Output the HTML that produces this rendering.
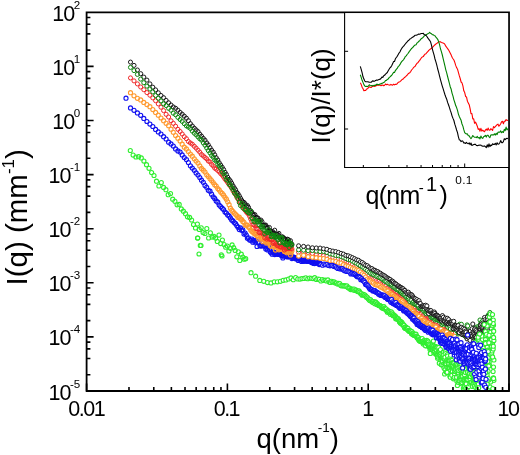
<!DOCTYPE html><html><head><meta charset="utf-8"><style>html,body{margin:0;padding:0;background:#fff;width:520px;height:455px;overflow:hidden}svg{display:block}</style></head><body><svg width="520" height="455" viewBox="0 0 520 455" font-family="Liberation Sans, Arial, sans-serif">
<rect width="520" height="455" fill="#fff"/>
<g fill="none">
<g stroke="#30ee30" stroke-width="1.1"><circle cx="130.3" cy="150.5" r="2.05"/><circle cx="133.1" cy="155.1" r="2.05"/><circle cx="135.9" cy="157.0" r="2.05"/><circle cx="138.6" cy="156.7" r="2.05"/><circle cx="141.3" cy="157.9" r="2.05"/><circle cx="143.9" cy="161.1" r="2.05"/><circle cx="146.5" cy="164.7" r="2.05"/><circle cx="149.0" cy="168.3" r="2.05"/><circle cx="151.6" cy="172.5" r="2.05"/><circle cx="154.0" cy="175.5" r="2.05"/><circle cx="156.5" cy="181.2" r="2.05"/><circle cx="158.9" cy="186.0" r="2.05"/><circle cx="161.3" cy="182.5" r="2.05"/><circle cx="163.6" cy="187.4" r="2.05"/><circle cx="165.9" cy="189.7" r="2.05"/><circle cx="168.2" cy="194.7" r="2.05"/><circle cx="170.5" cy="193.5" r="2.05"/><circle cx="172.7" cy="199.2" r="2.05"/><circle cx="174.9" cy="201.3" r="2.05"/><circle cx="177.1" cy="204.8" r="2.05"/><circle cx="179.2" cy="204.4" r="2.05"/><circle cx="181.3" cy="208.9" r="2.05"/><circle cx="183.4" cy="211.2" r="2.05"/><circle cx="185.5" cy="213.7" r="2.05"/><circle cx="187.5" cy="216.8" r="2.05"/><circle cx="189.6" cy="217.4" r="2.05"/><circle cx="191.6" cy="220.0" r="2.05"/><circle cx="193.5" cy="224.5" r="2.05"/><circle cx="195.5" cy="228.0" r="2.05"/><circle cx="197.4" cy="224.0" r="2.05"/><circle cx="199.3" cy="229.4" r="2.05"/><circle cx="201.2" cy="227.8" r="2.05"/><circle cx="203.1" cy="232.5" r="2.05"/><circle cx="204.9" cy="233.5" r="2.05"/><circle cx="206.8" cy="228.6" r="2.05"/><circle cx="208.6" cy="238.0" r="2.05"/><circle cx="210.4" cy="232.8" r="2.05"/><circle cx="212.1" cy="237.1" r="2.05"/><circle cx="213.9" cy="236.3" r="2.05"/><circle cx="215.6" cy="237.9" r="2.05"/><circle cx="217.3" cy="241.4" r="2.05"/><circle cx="219.0" cy="235.1" r="2.05"/><circle cx="220.7" cy="243.6" r="2.05"/><circle cx="222.4" cy="240.1" r="2.05"/><circle cx="224.1" cy="244.6" r="2.05"/><circle cx="225.7" cy="247.2" r="2.05"/><circle cx="227.3" cy="246.0" r="2.05"/><circle cx="228.9" cy="251.0" r="2.05"/><circle cx="230.5" cy="248.3" r="2.05"/><circle cx="232.1" cy="244.9" r="2.05"/><circle cx="233.7" cy="247.7" r="2.05"/><circle cx="235.2" cy="250.4" r="2.05"/><circle cx="236.8" cy="256.8" r="2.05"/><circle cx="238.3" cy="251.8" r="2.05"/><circle cx="239.8" cy="260.5" r="2.05"/><circle cx="241.3" cy="254.2" r="2.05"/><circle cx="242.8" cy="257.0" r="2.05"/><circle cx="244.2" cy="259.2" r="2.05"/><circle cx="245.7" cy="258.7" r="2.05"/><circle cx="197.6" cy="238.0" r="2.05"/><circle cx="199.0" cy="254.0" r="2.05"/><circle cx="201.0" cy="245.5" r="2.05"/><circle cx="222.0" cy="256.0" r="2.05"/><circle cx="221.3" cy="254.8" r="2.05"/><circle cx="197.7" cy="238.1" r="2.05"/><circle cx="200.3" cy="245.4" r="2.05"/></g>
<g stroke="#30ee30" stroke-width="1.1" fill="#fff"><circle cx="251.0" cy="272.7" r="2.05"/><circle cx="255.6" cy="276.2" r="2.05"/><circle cx="259.8" cy="280.4" r="2.05"/><circle cx="263.8" cy="281.3" r="2.05"/><circle cx="267.5" cy="282.6" r="2.05"/><circle cx="271.0" cy="282.9" r="2.05"/><circle cx="274.3" cy="281.8" r="2.05"/><circle cx="277.4" cy="281.8" r="2.05"/><circle cx="280.4" cy="281.3" r="2.05"/><circle cx="283.2" cy="280.3" r="2.05"/><circle cx="285.9" cy="279.9" r="2.05"/><circle cx="288.5" cy="279.0" r="2.05"/><circle cx="291.0" cy="277.9" r="2.05"/><circle cx="293.3" cy="279.7" r="2.05"/><circle cx="295.6" cy="277.5" r="2.05"/><circle cx="297.8" cy="279.0" r="2.05"/><circle cx="300.0" cy="279.1" r="2.05"/><circle cx="302.0" cy="278.6" r="2.05"/><circle cx="304.0" cy="278.4" r="2.05"/><circle cx="305.9" cy="277.8" r="2.05"/><circle cx="307.8" cy="278.7" r="2.05"/><circle cx="309.6" cy="278.1" r="2.05"/><circle cx="311.3" cy="278.3" r="2.05"/><circle cx="313.0" cy="278.6" r="2.05"/><circle cx="314.7" cy="277.7" r="2.05"/><circle cx="316.3" cy="279.5" r="2.05"/><circle cx="317.9" cy="279.1" r="2.05"/><circle cx="319.4" cy="279.3" r="2.05"/><circle cx="320.9" cy="281.0" r="2.05"/><circle cx="322.4" cy="279.6" r="2.05"/><circle cx="323.8" cy="280.5" r="2.05"/><circle cx="325.2" cy="280.2" r="2.05"/><circle cx="326.5" cy="281.0" r="2.05"/><circle cx="327.9" cy="279.9" r="2.05"/><circle cx="329.2" cy="282.0" r="2.05"/><circle cx="330.4" cy="282.5" r="2.05"/><circle cx="331.7" cy="281.3" r="2.05"/><circle cx="332.9" cy="282.1" r="2.05"/><circle cx="334.1" cy="281.9" r="2.05"/><circle cx="335.3" cy="283.0" r="2.05"/><circle cx="336.4" cy="283.0" r="2.05"/><circle cx="337.6" cy="284.1" r="2.05"/><circle cx="338.7" cy="283.4" r="2.05"/><circle cx="339.8" cy="283.7" r="2.05"/><circle cx="340.8" cy="285.5" r="2.05"/><circle cx="341.9" cy="286.0" r="2.05"/><circle cx="342.9" cy="285.6" r="2.05"/><circle cx="343.9" cy="285.7" r="2.05"/><circle cx="344.9" cy="286.0" r="2.05"/><circle cx="345.9" cy="286.2" r="2.05"/><circle cx="346.9" cy="285.9" r="2.05"/><circle cx="347.9" cy="287.6" r="2.05"/><circle cx="348.8" cy="288.1" r="2.05"/><circle cx="349.7" cy="288.2" r="2.05"/><circle cx="350.6" cy="289.6" r="2.05"/><circle cx="351.5" cy="289.3" r="2.05"/><circle cx="352.4" cy="289.2" r="2.05"/><circle cx="353.3" cy="289.9" r="2.05"/><circle cx="354.1" cy="289.0" r="2.05"/><circle cx="355.0" cy="290.5" r="2.05"/><circle cx="355.8" cy="289.8" r="2.05"/><circle cx="356.6" cy="290.5" r="2.05"/><circle cx="357.5" cy="291.6" r="2.05"/><circle cx="358.3" cy="291.0" r="2.05"/><circle cx="359.0" cy="290.9" r="2.05"/><circle cx="359.8" cy="292.2" r="2.05"/><circle cx="360.6" cy="293.6" r="2.05"/><circle cx="361.4" cy="293.6" r="2.05"/><circle cx="362.1" cy="295.2" r="2.05"/><circle cx="362.9" cy="294.7" r="2.05"/><circle cx="363.6" cy="294.4" r="2.05"/><circle cx="364.3" cy="295.3" r="2.05"/><circle cx="365.0" cy="295.1" r="2.05"/><circle cx="365.7" cy="296.2" r="2.05"/><circle cx="366.4" cy="297.2" r="2.05"/><circle cx="367.1" cy="297.0" r="2.05"/><circle cx="367.8" cy="298.0" r="2.05"/><circle cx="368.5" cy="299.1" r="2.05"/><circle cx="369.2" cy="299.8" r="2.05"/><circle cx="369.8" cy="300.5" r="2.05"/><circle cx="370.5" cy="299.5" r="2.05"/><circle cx="371.1" cy="300.8" r="2.05"/><circle cx="371.8" cy="301.8" r="2.05"/><circle cx="372.4" cy="301.5" r="2.05"/><circle cx="373.0" cy="302.5" r="2.05"/><circle cx="373.7" cy="301.6" r="2.05"/><circle cx="374.3" cy="302.9" r="2.05"/><circle cx="374.9" cy="303.7" r="2.05"/><circle cx="375.5" cy="301.9" r="2.05"/><circle cx="376.1" cy="302.7" r="2.05"/><circle cx="376.7" cy="304.5" r="2.05"/><circle cx="377.3" cy="303.5" r="2.05"/><circle cx="377.8" cy="304.3" r="2.05"/><circle cx="378.4" cy="305.3" r="2.05"/><circle cx="379.0" cy="305.5" r="2.05"/><circle cx="379.5" cy="305.6" r="2.05"/><circle cx="380.1" cy="305.5" r="2.05"/><circle cx="380.7" cy="306.4" r="2.05"/><circle cx="381.2" cy="306.4" r="2.05"/><circle cx="381.7" cy="307.7" r="2.05"/><circle cx="382.3" cy="307.3" r="2.05"/><circle cx="382.8" cy="307.9" r="2.05"/><circle cx="383.4" cy="308.6" r="2.05"/><circle cx="383.9" cy="306.7" r="2.05"/><circle cx="384.4" cy="308.1" r="2.05"/><circle cx="384.9" cy="308.7" r="2.05"/><circle cx="385.4" cy="308.8" r="2.05"/><circle cx="385.9" cy="309.7" r="2.05"/><circle cx="386.4" cy="309.0" r="2.05"/><circle cx="386.9" cy="311.1" r="2.05"/><circle cx="387.4" cy="312.2" r="2.05"/><circle cx="387.9" cy="310.5" r="2.05"/><circle cx="388.4" cy="311.7" r="2.05"/><circle cx="388.9" cy="311.2" r="2.05"/><circle cx="389.4" cy="312.8" r="2.05"/><circle cx="389.8" cy="312.0" r="2.05"/><circle cx="390.3" cy="314.3" r="2.05"/><circle cx="390.8" cy="312.8" r="2.05"/><circle cx="391.3" cy="311.8" r="2.05"/><circle cx="391.7" cy="313.3" r="2.05"/><circle cx="392.2" cy="313.1" r="2.05"/><circle cx="392.6" cy="314.7" r="2.05"/><circle cx="393.1" cy="315.7" r="2.05"/><circle cx="393.5" cy="314.5" r="2.05"/><circle cx="394.0" cy="315.6" r="2.05"/><circle cx="394.4" cy="316.1" r="2.05"/><circle cx="394.8" cy="315.7" r="2.05"/><circle cx="395.3" cy="316.4" r="2.05"/><circle cx="395.7" cy="318.8" r="2.05"/><circle cx="396.1" cy="317.2" r="2.05"/><circle cx="396.6" cy="318.1" r="2.05"/><circle cx="397.0" cy="318.9" r="2.05"/><circle cx="397.4" cy="318.7" r="2.05"/><circle cx="397.8" cy="319.0" r="2.05"/><circle cx="398.2" cy="318.6" r="2.05"/><circle cx="398.7" cy="319.7" r="2.05"/><circle cx="399.1" cy="320.7" r="2.05"/><circle cx="399.5" cy="321.7" r="2.05"/><circle cx="399.9" cy="322.1" r="2.05"/><circle cx="400.3" cy="323.1" r="2.05"/><circle cx="400.7" cy="321.4" r="2.05"/><circle cx="401.1" cy="323.5" r="2.05"/><circle cx="401.5" cy="322.7" r="2.05"/><circle cx="401.9" cy="322.3" r="2.05"/><circle cx="402.2" cy="323.4" r="2.05"/><circle cx="402.6" cy="324.8" r="2.05"/><circle cx="403.0" cy="324.7" r="2.05"/><circle cx="403.4" cy="325.5" r="2.05"/><circle cx="403.8" cy="324.9" r="2.05"/><circle cx="404.1" cy="325.6" r="2.05"/><circle cx="404.5" cy="327.8" r="2.05"/><circle cx="404.9" cy="327.3" r="2.05"/><circle cx="405.3" cy="328.5" r="2.05"/><circle cx="405.6" cy="327.2" r="2.05"/><circle cx="406.0" cy="327.2" r="2.05"/><circle cx="406.4" cy="328.6" r="2.05"/><circle cx="406.7" cy="328.9" r="2.05"/><circle cx="407.1" cy="328.6" r="2.05"/><circle cx="407.4" cy="328.2" r="2.05"/><circle cx="407.8" cy="329.9" r="2.05"/><circle cx="408.1" cy="328.5" r="2.05"/><circle cx="408.5" cy="330.4" r="2.05"/><circle cx="408.8" cy="330.5" r="2.05"/><circle cx="409.2" cy="331.5" r="2.05"/><circle cx="409.5" cy="330.9" r="2.05"/><circle cx="409.9" cy="330.8" r="2.05"/><circle cx="410.2" cy="330.9" r="2.05"/><circle cx="410.5" cy="331.5" r="2.05"/><circle cx="410.9" cy="331.0" r="2.05"/><circle cx="411.2" cy="332.6" r="2.05"/><circle cx="411.5" cy="333.8" r="2.05"/><circle cx="411.9" cy="331.7" r="2.05"/><circle cx="412.2" cy="333.7" r="2.05"/><circle cx="412.5" cy="333.8" r="2.05"/><circle cx="412.9" cy="334.6" r="2.05"/><circle cx="413.2" cy="333.2" r="2.05"/><circle cx="413.5" cy="334.6" r="2.05"/><circle cx="413.8" cy="335.2" r="2.05"/><circle cx="414.1" cy="335.0" r="2.05"/><circle cx="414.5" cy="334.7" r="2.05"/><circle cx="414.8" cy="334.8" r="2.05"/><circle cx="415.1" cy="335.1" r="2.05"/><circle cx="415.4" cy="335.5" r="2.05"/><circle cx="415.7" cy="334.5" r="2.05"/><circle cx="416.0" cy="334.2" r="2.05"/><circle cx="416.3" cy="336.0" r="2.05"/><circle cx="416.6" cy="336.7" r="2.05"/><circle cx="416.9" cy="336.6" r="2.05"/><circle cx="417.2" cy="337.9" r="2.05"/><circle cx="417.5" cy="337.7" r="2.05"/><circle cx="417.8" cy="337.5" r="2.05"/><circle cx="418.1" cy="338.5" r="2.05"/><circle cx="418.4" cy="337.7" r="2.05"/><circle cx="418.7" cy="340.1" r="2.05"/><circle cx="419.0" cy="339.3" r="2.05"/><circle cx="419.3" cy="340.2" r="2.05"/><circle cx="419.6" cy="341.0" r="2.05"/><circle cx="419.9" cy="339.2" r="2.05"/><circle cx="420.2" cy="339.3" r="2.05"/><circle cx="420.5" cy="341.5" r="2.05"/><circle cx="420.8" cy="339.5" r="2.05"/><circle cx="421.1" cy="341.1" r="2.05"/><circle cx="421.3" cy="341.4" r="2.05"/><circle cx="421.6" cy="340.4" r="2.05"/><circle cx="421.9" cy="341.5" r="2.05"/><circle cx="422.2" cy="338.6" r="2.05"/><circle cx="422.5" cy="342.5" r="2.05"/><circle cx="422.7" cy="342.1" r="2.05"/><circle cx="423.0" cy="341.0" r="2.05"/><circle cx="423.3" cy="344.1" r="2.05"/><circle cx="423.6" cy="342.7" r="2.05"/><circle cx="423.8" cy="341.6" r="2.05"/><circle cx="424.1" cy="340.7" r="2.05"/><circle cx="424.4" cy="342.9" r="2.05"/><circle cx="424.6" cy="341.6" r="2.05"/><circle cx="424.9" cy="342.2" r="2.05"/><circle cx="425.2" cy="342.9" r="2.05"/><circle cx="425.4" cy="345.6" r="2.05"/><circle cx="425.7" cy="345.8" r="2.05"/><circle cx="426.0" cy="341.8" r="2.05"/><circle cx="426.2" cy="342.6" r="2.05"/><circle cx="426.5" cy="343.2" r="2.05"/><circle cx="426.7" cy="340.4" r="2.05"/><circle cx="427.0" cy="343.1" r="2.05"/><circle cx="427.3" cy="341.9" r="2.05"/><circle cx="427.5" cy="344.0" r="2.05"/><circle cx="427.8" cy="341.1" r="2.05"/><circle cx="428.0" cy="342.7" r="2.05"/><circle cx="428.3" cy="342.1" r="2.05"/><circle cx="428.5" cy="346.5" r="2.05"/><circle cx="428.8" cy="343.9" r="2.05"/><circle cx="429.0" cy="345.8" r="2.05"/><circle cx="429.3" cy="346.2" r="2.05"/><circle cx="429.5" cy="346.9" r="2.05"/><circle cx="429.8" cy="344.6" r="2.05"/><circle cx="430.0" cy="349.4" r="2.05"/><circle cx="430.3" cy="353.4" r="2.05"/><circle cx="430.5" cy="348.2" r="2.05"/><circle cx="430.8" cy="346.8" r="2.05"/><circle cx="431.0" cy="344.3" r="2.05"/><circle cx="431.2" cy="346.9" r="2.05"/><circle cx="431.5" cy="348.3" r="2.05"/><circle cx="431.7" cy="349.1" r="2.05"/><circle cx="432.0" cy="346.1" r="2.05"/><circle cx="432.2" cy="345.2" r="2.05"/><circle cx="432.4" cy="349.3" r="2.05"/><circle cx="432.7" cy="344.0" r="2.05"/><circle cx="432.9" cy="345.4" r="2.05"/><circle cx="433.1" cy="347.3" r="2.05"/><circle cx="433.4" cy="341.1" r="2.05"/><circle cx="433.6" cy="348.9" r="2.05"/><circle cx="433.8" cy="346.0" r="2.05"/><circle cx="434.1" cy="353.1" r="2.05"/><circle cx="434.3" cy="351.3" r="2.05"/><circle cx="434.5" cy="348.0" r="2.05"/><circle cx="434.7" cy="348.2" r="2.05"/><circle cx="435.0" cy="346.3" r="2.05"/><circle cx="435.2" cy="348.9" r="2.05"/><circle cx="435.4" cy="346.8" r="2.05"/><circle cx="435.6" cy="353.3" r="2.05"/><circle cx="435.9" cy="348.8" r="2.05"/><circle cx="436.1" cy="352.4" r="2.05"/><circle cx="436.3" cy="347.0" r="2.05"/><circle cx="436.5" cy="354.7" r="2.05"/><circle cx="436.7" cy="350.5" r="2.05"/><circle cx="437.0" cy="353.3" r="2.05"/><circle cx="437.2" cy="347.2" r="2.05"/><circle cx="437.4" cy="354.5" r="2.05"/><circle cx="437.6" cy="358.2" r="2.05"/><circle cx="437.8" cy="355.2" r="2.05"/><circle cx="438.1" cy="357.1" r="2.05"/><circle cx="438.3" cy="352.2" r="2.05"/><circle cx="438.5" cy="351.8" r="2.05"/><circle cx="438.7" cy="347.4" r="2.05"/><circle cx="438.9" cy="351.4" r="2.05"/><circle cx="439.1" cy="355.4" r="2.05"/><circle cx="439.3" cy="363.2" r="2.05"/><circle cx="439.5" cy="350.6" r="2.05"/><circle cx="439.7" cy="354.0" r="2.05"/><circle cx="440.0" cy="353.8" r="2.05"/><circle cx="440.2" cy="354.7" r="2.05"/><circle cx="440.4" cy="349.5" r="2.05"/><circle cx="440.6" cy="357.1" r="2.05"/><circle cx="440.8" cy="356.1" r="2.05"/><circle cx="441.0" cy="360.0" r="2.05"/><circle cx="441.2" cy="364.6" r="2.05"/><circle cx="441.4" cy="357.8" r="2.05"/><circle cx="441.6" cy="364.8" r="2.05"/><circle cx="441.8" cy="359.0" r="2.05"/><circle cx="442.0" cy="356.8" r="2.05"/><circle cx="442.2" cy="357.7" r="2.05"/><circle cx="442.4" cy="358.0" r="2.05"/><circle cx="442.6" cy="361.3" r="2.05"/><circle cx="442.8" cy="356.5" r="2.05"/><circle cx="443.0" cy="365.2" r="2.05"/><circle cx="443.2" cy="357.3" r="2.05"/><circle cx="443.4" cy="352.2" r="2.05"/><circle cx="443.6" cy="358.5" r="2.05"/><circle cx="443.8" cy="354.8" r="2.05"/><circle cx="444.0" cy="368.1" r="2.05"/><circle cx="444.2" cy="363.5" r="2.05"/><circle cx="444.4" cy="359.3" r="2.05"/><circle cx="444.6" cy="374.0" r="2.05"/><circle cx="444.8" cy="359.0" r="2.05"/><circle cx="445.0" cy="357.2" r="2.05"/><circle cx="445.1" cy="369.4" r="2.05"/><circle cx="445.3" cy="351.7" r="2.05"/><circle cx="445.5" cy="363.4" r="2.05"/><circle cx="445.7" cy="353.6" r="2.05"/><circle cx="445.9" cy="363.0" r="2.05"/><circle cx="446.1" cy="363.9" r="2.05"/><circle cx="446.3" cy="372.1" r="2.05"/><circle cx="446.5" cy="372.1" r="2.05"/><circle cx="446.7" cy="361.2" r="2.05"/><circle cx="446.8" cy="367.2" r="2.05"/><circle cx="447.0" cy="359.8" r="2.05"/><circle cx="447.2" cy="372.3" r="2.05"/><circle cx="447.4" cy="354.5" r="2.05"/><circle cx="447.6" cy="356.0" r="2.05"/><circle cx="447.8" cy="360.4" r="2.05"/><circle cx="448.0" cy="366.7" r="2.05"/><circle cx="448.1" cy="367.6" r="2.05"/><circle cx="448.3" cy="361.1" r="2.05"/><circle cx="448.5" cy="364.7" r="2.05"/><circle cx="448.7" cy="363.6" r="2.05"/><circle cx="448.9" cy="363.6" r="2.05"/><circle cx="449.0" cy="367.8" r="2.05"/><circle cx="449.2" cy="361.0" r="2.05"/><circle cx="449.4" cy="359.9" r="2.05"/><circle cx="449.6" cy="367.7" r="2.05"/><circle cx="449.8" cy="360.5" r="2.05"/><circle cx="449.9" cy="375.9" r="2.05"/><circle cx="450.1" cy="357.4" r="2.05"/><circle cx="450.3" cy="377.2" r="2.05"/><circle cx="450.5" cy="365.8" r="2.05"/><circle cx="450.6" cy="355.2" r="2.05"/><circle cx="450.8" cy="370.2" r="2.05"/><circle cx="451.0" cy="360.1" r="2.05"/><circle cx="451.2" cy="373.2" r="2.05"/><circle cx="451.3" cy="367.7" r="2.05"/><circle cx="451.5" cy="363.2" r="2.05"/><circle cx="451.7" cy="365.5" r="2.05"/><circle cx="451.8" cy="375.2" r="2.05"/><circle cx="452.0" cy="360.6" r="2.05"/><circle cx="452.2" cy="362.9" r="2.05"/><circle cx="452.4" cy="371.3" r="2.05"/><circle cx="452.5" cy="367.9" r="2.05"/><circle cx="452.7" cy="366.3" r="2.05"/><circle cx="452.9" cy="365.3" r="2.05"/><circle cx="453.0" cy="365.8" r="2.05"/><circle cx="453.2" cy="362.6" r="2.05"/><circle cx="453.4" cy="378.8" r="2.05"/><circle cx="453.5" cy="367.5" r="2.05"/><circle cx="453.7" cy="348.2" r="2.05"/><circle cx="453.9" cy="363.1" r="2.05"/><circle cx="454.0" cy="363.0" r="2.05"/><circle cx="454.2" cy="377.4" r="2.05"/><circle cx="454.4" cy="373.4" r="2.05"/><circle cx="454.5" cy="369.3" r="2.05"/><circle cx="454.7" cy="368.7" r="2.05"/><circle cx="454.9" cy="371.4" r="2.05"/><circle cx="455.0" cy="371.1" r="2.05"/><circle cx="455.3" cy="369.0" r="2.05"/><circle cx="455.5" cy="365.4" r="2.05"/><circle cx="455.7" cy="369.6" r="2.05"/><circle cx="455.8" cy="364.3" r="2.05"/><circle cx="456.0" cy="364.7" r="2.05"/><circle cx="456.2" cy="378.2" r="2.05"/><circle cx="456.3" cy="362.0" r="2.05"/><circle cx="456.5" cy="364.4" r="2.05"/><circle cx="456.6" cy="377.2" r="2.05"/><circle cx="456.8" cy="368.3" r="2.05"/><circle cx="456.9" cy="381.3" r="2.05"/><circle cx="457.1" cy="371.7" r="2.05"/><circle cx="457.3" cy="367.0" r="2.05"/><circle cx="457.4" cy="385.5" r="2.05"/><circle cx="457.6" cy="365.3" r="2.05"/><circle cx="457.7" cy="367.7" r="2.05"/><circle cx="457.9" cy="368.6" r="2.05"/><circle cx="458.0" cy="373.4" r="2.05"/><circle cx="458.2" cy="382.3" r="2.05"/><circle cx="458.4" cy="351.3" r="2.05"/><circle cx="458.5" cy="372.8" r="2.05"/><circle cx="458.8" cy="370.4" r="2.05"/><circle cx="459.0" cy="381.1" r="2.05"/><circle cx="459.1" cy="376.1" r="2.05"/><circle cx="459.3" cy="363.7" r="2.05"/><circle cx="459.4" cy="359.7" r="2.05"/><circle cx="459.6" cy="378.3" r="2.05"/><circle cx="459.7" cy="380.6" r="2.05"/><circle cx="459.9" cy="353.3" r="2.05"/><circle cx="460.0" cy="367.2" r="2.05"/><circle cx="460.2" cy="362.6" r="2.05"/><circle cx="460.3" cy="369.6" r="2.05"/><circle cx="460.5" cy="359.9" r="2.05"/><circle cx="460.6" cy="378.9" r="2.05"/><circle cx="460.8" cy="376.3" r="2.05"/><circle cx="460.9" cy="358.9" r="2.05"/><circle cx="461.1" cy="364.3" r="2.05"/><circle cx="461.2" cy="377.0" r="2.05"/><circle cx="461.4" cy="373.6" r="2.05"/><circle cx="461.5" cy="368.5" r="2.05"/><circle cx="461.7" cy="383.8" r="2.05"/><circle cx="461.8" cy="380.3" r="2.05"/><circle cx="461.9" cy="374.9" r="2.05"/><circle cx="462.1" cy="382.4" r="2.05"/><circle cx="462.2" cy="370.8" r="2.05"/><circle cx="462.4" cy="374.7" r="2.05"/><circle cx="462.5" cy="376.7" r="2.05"/><circle cx="462.7" cy="376.2" r="2.05"/><circle cx="462.8" cy="362.7" r="2.05"/><circle cx="463.0" cy="357.3" r="2.05"/><circle cx="463.1" cy="366.2" r="2.05"/><circle cx="463.4" cy="388.3" r="2.05"/><circle cx="463.5" cy="370.2" r="2.05"/><circle cx="463.7" cy="381.2" r="2.05"/><circle cx="463.8" cy="379.3" r="2.05"/><circle cx="463.9" cy="365.8" r="2.05"/><circle cx="464.1" cy="389.4" r="2.05"/><circle cx="464.2" cy="379.4" r="2.05"/><circle cx="464.4" cy="374.3" r="2.05"/><circle cx="464.5" cy="374.7" r="2.05"/><circle cx="464.6" cy="381.2" r="2.05"/><circle cx="464.8" cy="386.4" r="2.05"/><circle cx="464.9" cy="368.7" r="2.05"/><circle cx="465.1" cy="380.2" r="2.05"/><circle cx="465.2" cy="368.4" r="2.05"/><circle cx="465.3" cy="370.4" r="2.05"/><circle cx="465.5" cy="372.4" r="2.05"/><circle cx="465.6" cy="388.3" r="2.05"/><circle cx="465.7" cy="359.2" r="2.05"/><circle cx="465.9" cy="382.2" r="2.05"/><circle cx="466.0" cy="368.7" r="2.05"/><circle cx="466.2" cy="383.7" r="2.05"/><circle cx="466.3" cy="361.3" r="2.05"/><circle cx="466.4" cy="379.8" r="2.05"/><circle cx="466.6" cy="364.9" r="2.05"/><circle cx="467.0" cy="388.7" r="2.05"/><circle cx="467.1" cy="379.4" r="2.05"/><circle cx="467.2" cy="362.3" r="2.05"/><circle cx="467.4" cy="371.9" r="2.05"/><circle cx="467.6" cy="379.7" r="2.05"/><circle cx="467.8" cy="361.4" r="2.05"/><circle cx="467.9" cy="379.4" r="2.05"/><circle cx="468.0" cy="367.7" r="2.05"/><circle cx="468.2" cy="376.8" r="2.05"/><circle cx="468.7" cy="386.6" r="2.05"/><circle cx="468.9" cy="366.3" r="2.05"/><circle cx="469.1" cy="371.5" r="2.05"/><circle cx="469.2" cy="377.0" r="2.05"/><circle cx="469.5" cy="373.7" r="2.05"/><circle cx="469.6" cy="375.7" r="2.05"/><circle cx="469.7" cy="376.4" r="2.05"/><circle cx="469.8" cy="373.5" r="2.05"/><circle cx="470.0" cy="383.9" r="2.05"/><circle cx="470.1" cy="379.8" r="2.05"/><circle cx="470.4" cy="347.9" r="2.05"/><circle cx="470.5" cy="376.6" r="2.05"/><circle cx="470.7" cy="355.5" r="2.05"/><circle cx="470.9" cy="382.5" r="2.05"/><circle cx="471.2" cy="382.1" r="2.05"/><circle cx="471.5" cy="362.5" r="2.05"/><circle cx="471.6" cy="374.3" r="2.05"/><circle cx="471.7" cy="373.8" r="2.05"/><circle cx="472.3" cy="364.5" r="2.05"/><circle cx="472.5" cy="384.4" r="2.05"/><circle cx="472.6" cy="386.5" r="2.05"/><circle cx="472.8" cy="373.1" r="2.05"/><circle cx="473.0" cy="380.9" r="2.05"/><circle cx="473.1" cy="376.4" r="2.05"/><circle cx="473.2" cy="368.2" r="2.05"/><circle cx="473.3" cy="380.5" r="2.05"/><circle cx="473.6" cy="374.2" r="2.05"/><circle cx="473.7" cy="375.3" r="2.05"/><circle cx="473.8" cy="383.3" r="2.05"/><circle cx="473.9" cy="383.2" r="2.05"/><circle cx="474.0" cy="372.5" r="2.05"/><circle cx="474.2" cy="363.6" r="2.05"/><circle cx="474.3" cy="378.9" r="2.05"/><circle cx="474.4" cy="377.9" r="2.05"/><circle cx="474.5" cy="386.3" r="2.05"/><circle cx="474.9" cy="379.0" r="2.05"/><circle cx="475.0" cy="382.1" r="2.05"/><circle cx="475.1" cy="382.5" r="2.05"/><circle cx="475.2" cy="364.6" r="2.05"/><circle cx="475.4" cy="367.1" r="2.05"/><circle cx="475.5" cy="377.3" r="2.05"/><circle cx="475.7" cy="387.5" r="2.05"/><circle cx="475.8" cy="383.3" r="2.05"/><circle cx="476.0" cy="357.9" r="2.05"/><circle cx="476.2" cy="371.1" r="2.05"/><circle cx="476.4" cy="381.0" r="2.05"/><circle cx="476.8" cy="384.7" r="2.05"/><circle cx="476.9" cy="379.7" r="2.05"/><circle cx="477.2" cy="378.4" r="2.05"/><circle cx="477.3" cy="388.4" r="2.05"/><circle cx="477.4" cy="381.3" r="2.05"/><circle cx="477.6" cy="380.2" r="2.05"/><circle cx="477.8" cy="368.3" r="2.05"/><circle cx="477.9" cy="385.6" r="2.05"/><circle cx="478.0" cy="370.3" r="2.05"/><circle cx="478.1" cy="378.6" r="2.05"/><circle cx="478.2" cy="366.3" r="2.05"/><circle cx="478.4" cy="383.9" r="2.05"/><circle cx="478.7" cy="387.8" r="2.05"/><circle cx="478.8" cy="378.4" r="2.05"/><circle cx="479.0" cy="365.9" r="2.05"/></g>
<g stroke="#1010f0" stroke-width="1.1"><circle cx="130.5" cy="107.9" r="2.05"/><circle cx="134.0" cy="110.3" r="2.05"/><circle cx="137.4" cy="112.9" r="2.05"/><circle cx="140.7" cy="115.3" r="2.05"/><circle cx="143.8" cy="118.4" r="2.05"/><circle cx="146.9" cy="121.5" r="2.05"/><circle cx="149.9" cy="124.1" r="2.05"/><circle cx="152.8" cy="126.5" r="2.05"/><circle cx="155.6" cy="129.4" r="2.05"/><circle cx="158.3" cy="131.9" r="2.05"/><circle cx="161.0" cy="134.0" r="2.05"/><circle cx="163.6" cy="136.7" r="2.05"/><circle cx="166.1" cy="139.0" r="2.05"/><circle cx="168.6" cy="142.2" r="2.05"/><circle cx="171.0" cy="143.9" r="2.05"/><circle cx="173.3" cy="146.1" r="2.05"/><circle cx="175.6" cy="148.9" r="2.05"/><circle cx="177.9" cy="150.9" r="2.05"/><circle cx="180.1" cy="152.1" r="2.05"/><circle cx="182.2" cy="154.9" r="2.05"/><circle cx="184.3" cy="157.5" r="2.05"/><circle cx="186.4" cy="159.6" r="2.05"/><circle cx="188.4" cy="162.5" r="2.05"/><circle cx="190.4" cy="165.8" r="2.05"/><circle cx="192.3" cy="168.1" r="2.05"/><circle cx="194.3" cy="170.3" r="2.05"/><circle cx="196.1" cy="172.9" r="2.05"/><circle cx="198.0" cy="175.0" r="2.05"/><circle cx="199.8" cy="177.5" r="2.05"/><circle cx="201.5" cy="180.2" r="2.05"/><circle cx="203.3" cy="182.3" r="2.05"/><circle cx="205.0" cy="185.4" r="2.05"/><circle cx="206.7" cy="187.3" r="2.05"/><circle cx="208.3" cy="190.3" r="2.05"/><circle cx="210.0" cy="191.2" r="2.05"/><circle cx="211.6" cy="194.2" r="2.05"/><circle cx="213.2" cy="196.8" r="2.05"/><circle cx="214.7" cy="198.4" r="2.05"/><circle cx="216.2" cy="200.9" r="2.05"/><circle cx="217.8" cy="202.2" r="2.05"/><circle cx="219.2" cy="205.0" r="2.05"/><circle cx="220.7" cy="206.5" r="2.05"/><circle cx="222.2" cy="208.2" r="2.05"/><circle cx="223.6" cy="209.6" r="2.05"/><circle cx="225.0" cy="212.1" r="2.05"/><circle cx="226.4" cy="213.0" r="2.05"/><circle cx="227.7" cy="214.9" r="2.05"/><circle cx="229.1" cy="215.9" r="2.05"/><circle cx="230.4" cy="217.9" r="2.05"/><circle cx="231.7" cy="219.9" r="2.05"/><circle cx="233.0" cy="220.9" r="2.05"/><circle cx="234.3" cy="222.5" r="2.05"/><circle cx="235.6" cy="223.7" r="2.05"/><circle cx="236.8" cy="225.6" r="2.05"/><circle cx="238.0" cy="227.2" r="2.05"/><circle cx="239.3" cy="229.6" r="2.05"/><circle cx="240.5" cy="227.9" r="2.05"/><circle cx="241.7" cy="230.3" r="2.05"/><circle cx="242.8" cy="229.8" r="2.05"/><circle cx="244.0" cy="234.1" r="2.05"/><circle cx="245.1" cy="233.0" r="2.05"/><circle cx="246.3" cy="235.1" r="2.05"/><circle cx="247.4" cy="238.3" r="2.05"/><circle cx="248.5" cy="237.8" r="2.05"/><circle cx="249.6" cy="239.9" r="2.05"/><circle cx="250.7" cy="240.3" r="2.05"/><circle cx="251.8" cy="239.0" r="2.05"/><circle cx="252.8" cy="242.2" r="2.05"/><circle cx="253.9" cy="240.3" r="2.05"/><circle cx="254.9" cy="242.2" r="2.05"/><circle cx="256.0" cy="240.8" r="2.05"/><circle cx="257.0" cy="246.5" r="2.05"/><circle cx="258.0" cy="242.7" r="2.05"/><circle cx="259.0" cy="242.1" r="2.05"/><circle cx="260.0" cy="246.0" r="2.05"/><circle cx="261.0" cy="245.7" r="2.05"/><circle cx="262.0" cy="246.0" r="2.05"/><circle cx="262.9" cy="245.6" r="2.05"/><circle cx="263.9" cy="245.6" r="2.05"/><circle cx="264.8" cy="246.1" r="2.05"/><circle cx="265.8" cy="249.1" r="2.05"/><circle cx="266.7" cy="248.1" r="2.05"/><circle cx="267.6" cy="249.9" r="2.05"/><circle cx="268.5" cy="246.4" r="2.05"/><circle cx="269.4" cy="249.4" r="2.05"/><circle cx="270.3" cy="252.0" r="2.05"/><circle cx="271.2" cy="252.8" r="2.05"/><circle cx="272.1" cy="254.2" r="2.05"/><circle cx="273.0" cy="252.0" r="2.05"/><circle cx="273.8" cy="251.8" r="2.05"/><circle cx="274.7" cy="254.6" r="2.05"/><circle cx="275.5" cy="253.4" r="2.05"/><circle cx="276.4" cy="254.0" r="2.05"/><circle cx="277.2" cy="253.2" r="2.05"/><circle cx="278.0" cy="254.4" r="2.05"/><circle cx="278.9" cy="253.7" r="2.05"/><circle cx="279.7" cy="254.0" r="2.05"/><circle cx="280.5" cy="254.2" r="2.05"/><circle cx="281.3" cy="255.6" r="2.05"/><circle cx="282.1" cy="255.8" r="2.05"/><circle cx="282.9" cy="258.0" r="2.05"/><circle cx="283.7" cy="256.2" r="2.05"/><circle cx="284.4" cy="254.0" r="2.05"/><circle cx="285.2" cy="254.0" r="2.05"/><circle cx="286.0" cy="256.3" r="2.05"/><circle cx="286.7" cy="256.4" r="2.05"/><circle cx="287.5" cy="257.0" r="2.05"/><circle cx="288.2" cy="256.5" r="2.05"/><circle cx="289.0" cy="256.7" r="2.05"/><circle cx="289.7" cy="256.1" r="2.05"/><circle cx="290.5" cy="254.9" r="2.05"/><circle cx="291.2" cy="256.1" r="2.05"/><circle cx="291.9" cy="258.6" r="2.05"/><circle cx="292.6" cy="257.7" r="2.05"/><circle cx="293.3" cy="256.9" r="2.05"/><circle cx="294.1" cy="257.6" r="2.05"/><circle cx="294.8" cy="257.9" r="2.05"/><circle cx="295.5" cy="258.4" r="2.05"/><circle cx="296.1" cy="259.0" r="2.05"/><circle cx="296.8" cy="257.8" r="2.05"/><circle cx="297.5" cy="258.8" r="2.05"/><circle cx="298.2" cy="260.4" r="2.05"/><circle cx="298.9" cy="258.4" r="2.05"/><circle cx="299.5" cy="259.3" r="2.05"/><circle cx="300.2" cy="259.3" r="2.05"/><circle cx="300.9" cy="260.0" r="2.05"/><circle cx="301.5" cy="261.4" r="2.05"/><circle cx="302.2" cy="260.3" r="2.05"/><circle cx="302.8" cy="260.3" r="2.05"/><circle cx="303.5" cy="261.3" r="2.05"/><circle cx="304.1" cy="260.1" r="2.05"/><circle cx="304.8" cy="259.6" r="2.05"/><circle cx="305.4" cy="261.0" r="2.05"/><circle cx="306.0" cy="261.2" r="2.05"/><circle cx="306.6" cy="260.5" r="2.05"/><circle cx="307.3" cy="261.0" r="2.05"/><circle cx="307.9" cy="261.2" r="2.05"/><circle cx="308.5" cy="261.0" r="2.05"/><circle cx="309.1" cy="261.5" r="2.05"/><circle cx="309.7" cy="261.0" r="2.05"/><circle cx="310.3" cy="261.2" r="2.05"/><circle cx="310.9" cy="260.2" r="2.05"/><circle cx="311.5" cy="262.4" r="2.05"/><circle cx="312.1" cy="262.8" r="2.05"/><circle cx="312.7" cy="261.6" r="2.05"/><circle cx="313.3" cy="261.1" r="2.05"/><circle cx="313.9" cy="263.5" r="2.05"/><circle cx="314.5" cy="263.6" r="2.05"/><circle cx="315.1" cy="263.2" r="2.05"/><circle cx="315.7" cy="261.3" r="2.05"/><circle cx="316.3" cy="263.0" r="2.05"/><circle cx="316.9" cy="262.2" r="2.05"/><circle cx="317.5" cy="262.8" r="2.05"/><circle cx="318.1" cy="262.9" r="2.05"/><circle cx="318.7" cy="263.2" r="2.05"/><circle cx="319.3" cy="264.6" r="2.05"/><circle cx="319.9" cy="263.1" r="2.05"/><circle cx="126.0" cy="98.2" r="2.05"/></g>
<g stroke="#ff9a30" stroke-width="1.1"><circle cx="130.5" cy="92.7" r="2.05"/><circle cx="134.0" cy="95.8" r="2.05"/><circle cx="137.4" cy="98.3" r="2.05"/><circle cx="140.7" cy="99.9" r="2.05"/><circle cx="143.8" cy="102.4" r="2.05"/><circle cx="146.9" cy="104.6" r="2.05"/><circle cx="149.9" cy="106.7" r="2.05"/><circle cx="152.8" cy="109.6" r="2.05"/><circle cx="155.6" cy="112.4" r="2.05"/><circle cx="158.3" cy="115.2" r="2.05"/><circle cx="161.0" cy="118.0" r="2.05"/><circle cx="163.6" cy="120.7" r="2.05"/><circle cx="166.1" cy="123.3" r="2.05"/><circle cx="168.6" cy="125.7" r="2.05"/><circle cx="171.0" cy="129.2" r="2.05"/><circle cx="173.3" cy="132.3" r="2.05"/><circle cx="175.6" cy="135.6" r="2.05"/><circle cx="177.9" cy="138.2" r="2.05"/><circle cx="180.1" cy="141.0" r="2.05"/><circle cx="182.2" cy="144.2" r="2.05"/><circle cx="184.3" cy="147.2" r="2.05"/><circle cx="186.4" cy="148.9" r="2.05"/><circle cx="188.4" cy="151.5" r="2.05"/><circle cx="190.4" cy="154.1" r="2.05"/><circle cx="192.3" cy="156.2" r="2.05"/><circle cx="194.3" cy="158.8" r="2.05"/><circle cx="196.1" cy="161.0" r="2.05"/><circle cx="198.0" cy="163.0" r="2.05"/><circle cx="199.8" cy="165.9" r="2.05"/><circle cx="201.5" cy="168.4" r="2.05"/><circle cx="203.3" cy="170.2" r="2.05"/><circle cx="205.0" cy="172.1" r="2.05"/><circle cx="206.7" cy="174.8" r="2.05"/><circle cx="208.3" cy="176.5" r="2.05"/><circle cx="210.0" cy="178.7" r="2.05"/><circle cx="211.6" cy="180.5" r="2.05"/><circle cx="213.2" cy="182.5" r="2.05"/><circle cx="214.7" cy="184.7" r="2.05"/><circle cx="216.2" cy="186.1" r="2.05"/><circle cx="217.8" cy="188.6" r="2.05"/><circle cx="219.2" cy="189.9" r="2.05"/><circle cx="220.7" cy="192.1" r="2.05"/><circle cx="222.2" cy="193.4" r="2.05"/><circle cx="223.6" cy="195.2" r="2.05"/><circle cx="225.0" cy="197.3" r="2.05"/><circle cx="226.4" cy="199.2" r="2.05"/><circle cx="227.7" cy="201.8" r="2.05"/><circle cx="229.1" cy="204.7" r="2.05"/><circle cx="230.4" cy="208.2" r="2.05"/><circle cx="231.7" cy="210.2" r="2.05"/><circle cx="233.0" cy="211.6" r="2.05"/><circle cx="234.3" cy="213.2" r="2.05"/><circle cx="235.6" cy="214.3" r="2.05"/><circle cx="236.8" cy="215.6" r="2.05"/><circle cx="238.0" cy="217.5" r="2.05"/><circle cx="239.3" cy="217.2" r="2.05"/><circle cx="240.5" cy="219.0" r="2.05"/><circle cx="241.7" cy="219.7" r="2.05"/><circle cx="242.8" cy="221.4" r="2.05"/><circle cx="244.0" cy="222.3" r="2.05"/><circle cx="245.1" cy="225.1" r="2.05"/><circle cx="246.3" cy="225.0" r="2.05"/><circle cx="247.4" cy="225.1" r="2.05"/><circle cx="248.5" cy="227.1" r="2.05"/><circle cx="249.6" cy="227.7" r="2.05"/><circle cx="250.7" cy="230.0" r="2.05"/><circle cx="251.8" cy="231.2" r="2.05"/><circle cx="252.8" cy="231.9" r="2.05"/><circle cx="253.9" cy="233.0" r="2.05"/><circle cx="254.9" cy="234.1" r="2.05"/><circle cx="256.0" cy="233.9" r="2.05"/><circle cx="257.0" cy="235.8" r="2.05"/><circle cx="258.0" cy="236.0" r="2.05"/><circle cx="259.0" cy="239.1" r="2.05"/><circle cx="260.0" cy="236.3" r="2.05"/><circle cx="261.0" cy="238.4" r="2.05"/><circle cx="262.0" cy="238.5" r="2.05"/><circle cx="262.9" cy="241.7" r="2.05"/><circle cx="263.9" cy="240.1" r="2.05"/><circle cx="264.8" cy="240.6" r="2.05"/><circle cx="265.8" cy="242.0" r="2.05"/><circle cx="266.7" cy="243.1" r="2.05"/><circle cx="267.6" cy="241.5" r="2.05"/><circle cx="268.5" cy="242.6" r="2.05"/><circle cx="269.4" cy="241.8" r="2.05"/><circle cx="270.3" cy="245.7" r="2.05"/><circle cx="271.2" cy="246.2" r="2.05"/><circle cx="272.1" cy="242.4" r="2.05"/><circle cx="273.0" cy="245.5" r="2.05"/><circle cx="273.8" cy="246.3" r="2.05"/><circle cx="274.7" cy="246.8" r="2.05"/><circle cx="275.5" cy="250.1" r="2.05"/><circle cx="276.4" cy="246.3" r="2.05"/><circle cx="277.2" cy="246.6" r="2.05"/><circle cx="278.0" cy="248.2" r="2.05"/><circle cx="278.9" cy="249.8" r="2.05"/><circle cx="279.7" cy="247.5" r="2.05"/><circle cx="280.5" cy="249.2" r="2.05"/><circle cx="281.3" cy="249.1" r="2.05"/><circle cx="282.1" cy="247.8" r="2.05"/><circle cx="282.9" cy="248.7" r="2.05"/><circle cx="283.7" cy="248.8" r="2.05"/><circle cx="284.4" cy="251.5" r="2.05"/><circle cx="285.2" cy="250.9" r="2.05"/><circle cx="286.0" cy="249.1" r="2.05"/><circle cx="286.7" cy="252.8" r="2.05"/><circle cx="287.5" cy="251.6" r="2.05"/><circle cx="288.2" cy="252.2" r="2.05"/><circle cx="289.0" cy="250.5" r="2.05"/><circle cx="289.7" cy="250.7" r="2.05"/><circle cx="290.5" cy="254.9" r="2.05"/><circle cx="291.2" cy="252.8" r="2.05"/><circle cx="291.9" cy="250.7" r="2.05"/></g>
<g stroke="#f02828" stroke-width="1.0"><circle cx="130.5" cy="77.9" r="2.05"/><circle cx="134.0" cy="80.9" r="2.05"/><circle cx="137.4" cy="83.9" r="2.05"/><circle cx="140.7" cy="87.0" r="2.05"/><circle cx="143.8" cy="89.7" r="2.05"/><circle cx="146.9" cy="92.6" r="2.05"/><circle cx="149.9" cy="95.2" r="2.05"/><circle cx="152.8" cy="97.9" r="2.05"/><circle cx="155.6" cy="100.7" r="2.05"/><circle cx="158.3" cy="103.9" r="2.05"/><circle cx="161.0" cy="107.2" r="2.05"/><circle cx="163.6" cy="110.6" r="2.05"/><circle cx="166.1" cy="114.3" r="2.05"/><circle cx="168.6" cy="117.0" r="2.05"/><circle cx="171.0" cy="120.8" r="2.05"/><circle cx="173.3" cy="123.3" r="2.05"/><circle cx="175.6" cy="126.2" r="2.05"/><circle cx="177.9" cy="129.3" r="2.05"/><circle cx="180.1" cy="131.5" r="2.05"/><circle cx="182.2" cy="134.0" r="2.05"/><circle cx="184.3" cy="136.7" r="2.05"/><circle cx="186.4" cy="138.7" r="2.05"/><circle cx="188.4" cy="141.5" r="2.05"/><circle cx="190.4" cy="143.0" r="2.05"/><circle cx="192.3" cy="144.2" r="2.05"/><circle cx="194.3" cy="146.3" r="2.05"/><circle cx="196.1" cy="148.1" r="2.05"/><circle cx="198.0" cy="150.2" r="2.05"/><circle cx="199.8" cy="152.2" r="2.05"/><circle cx="201.5" cy="154.5" r="2.05"/><circle cx="203.3" cy="155.9" r="2.05"/><circle cx="205.0" cy="157.5" r="2.05"/><circle cx="206.7" cy="158.9" r="2.05"/><circle cx="208.3" cy="161.0" r="2.05"/><circle cx="210.0" cy="162.0" r="2.05"/><circle cx="211.6" cy="164.4" r="2.05"/><circle cx="213.2" cy="165.9" r="2.05"/><circle cx="214.7" cy="168.1" r="2.05"/><circle cx="216.2" cy="169.1" r="2.05"/><circle cx="217.8" cy="170.5" r="2.05"/><circle cx="219.2" cy="171.8" r="2.05"/><circle cx="220.7" cy="173.6" r="2.05"/><circle cx="222.2" cy="175.1" r="2.05"/><circle cx="223.6" cy="177.0" r="2.05"/><circle cx="225.0" cy="179.1" r="2.05"/><circle cx="226.4" cy="180.7" r="2.05"/><circle cx="227.7" cy="182.5" r="2.05"/><circle cx="229.1" cy="184.6" r="2.05"/><circle cx="230.4" cy="186.2" r="2.05"/><circle cx="231.7" cy="188.1" r="2.05"/><circle cx="233.0" cy="190.7" r="2.05"/><circle cx="234.3" cy="193.0" r="2.05"/><circle cx="235.6" cy="194.6" r="2.05"/><circle cx="236.8" cy="197.2" r="2.05"/><circle cx="238.0" cy="199.0" r="2.05"/><circle cx="239.3" cy="201.4" r="2.05"/><circle cx="240.5" cy="202.2" r="2.05"/><circle cx="241.7" cy="204.7" r="2.05"/><circle cx="242.8" cy="206.7" r="2.05"/><circle cx="244.0" cy="209.0" r="2.05"/><circle cx="245.1" cy="210.2" r="2.05"/><circle cx="246.3" cy="211.9" r="2.05"/><circle cx="247.4" cy="213.0" r="2.05"/><circle cx="248.5" cy="214.1" r="2.05"/><circle cx="249.6" cy="216.3" r="2.05"/><circle cx="250.7" cy="219.0" r="2.05"/><circle cx="251.8" cy="221.7" r="2.05"/><circle cx="252.8" cy="224.4" r="2.05"/><circle cx="253.9" cy="224.6" r="2.05"/><circle cx="254.9" cy="225.9" r="2.05"/><circle cx="256.0" cy="228.6" r="2.05"/><circle cx="257.0" cy="228.6" r="2.05"/><circle cx="258.0" cy="229.1" r="2.05"/><circle cx="259.0" cy="232.4" r="2.05"/><circle cx="260.0" cy="233.0" r="2.05"/><circle cx="261.0" cy="232.0" r="2.05"/><circle cx="262.0" cy="233.0" r="2.05"/><circle cx="262.9" cy="234.0" r="2.05"/><circle cx="263.9" cy="233.5" r="2.05"/><circle cx="264.8" cy="238.0" r="2.05"/><circle cx="265.8" cy="235.3" r="2.05"/><circle cx="266.7" cy="239.1" r="2.05"/><circle cx="267.6" cy="237.7" r="2.05"/><circle cx="268.5" cy="236.4" r="2.05"/><circle cx="269.4" cy="239.3" r="2.05"/><circle cx="270.3" cy="238.9" r="2.05"/><circle cx="271.2" cy="239.8" r="2.05"/><circle cx="272.1" cy="239.6" r="2.05"/><circle cx="273.0" cy="243.4" r="2.05"/><circle cx="273.8" cy="242.5" r="2.05"/><circle cx="274.7" cy="242.0" r="2.05"/><circle cx="275.5" cy="244.0" r="2.05"/><circle cx="276.4" cy="243.4" r="2.05"/><circle cx="277.2" cy="245.7" r="2.05"/><circle cx="278.0" cy="245.1" r="2.05"/><circle cx="278.9" cy="243.1" r="2.05"/><circle cx="279.7" cy="246.7" r="2.05"/><circle cx="280.5" cy="246.6" r="2.05"/><circle cx="281.3" cy="247.3" r="2.05"/><circle cx="282.1" cy="245.8" r="2.05"/><circle cx="282.9" cy="245.0" r="2.05"/><circle cx="283.7" cy="247.7" r="2.05"/><circle cx="284.4" cy="250.0" r="2.05"/><circle cx="285.2" cy="245.9" r="2.05"/><circle cx="286.0" cy="248.9" r="2.05"/><circle cx="286.7" cy="247.9" r="2.05"/><circle cx="287.5" cy="245.8" r="2.05"/><circle cx="288.2" cy="248.7" r="2.05"/><circle cx="289.0" cy="248.1" r="2.05"/><circle cx="289.7" cy="247.4" r="2.05"/><circle cx="290.5" cy="248.5" r="2.05"/><circle cx="291.2" cy="246.4" r="2.05"/><circle cx="291.9" cy="248.9" r="2.05"/></g>
<g stroke="#111111" stroke-width="0.95"><circle cx="130.5" cy="62.1" r="2.05"/><circle cx="134.0" cy="65.4" r="2.05"/><circle cx="137.4" cy="70.0" r="2.05"/><circle cx="140.7" cy="73.7" r="2.05"/><circle cx="143.8" cy="77.1" r="2.05"/><circle cx="146.9" cy="80.1" r="2.05"/><circle cx="149.9" cy="83.9" r="2.05"/><circle cx="152.8" cy="87.2" r="2.05"/><circle cx="155.6" cy="89.9" r="2.05"/><circle cx="158.3" cy="92.8" r="2.05"/><circle cx="161.0" cy="95.5" r="2.05"/><circle cx="163.6" cy="97.7" r="2.05"/><circle cx="166.1" cy="100.4" r="2.05"/><circle cx="168.6" cy="102.8" r="2.05"/><circle cx="171.0" cy="105.0" r="2.05"/><circle cx="173.3" cy="107.0" r="2.05"/><circle cx="175.6" cy="108.3" r="2.05"/><circle cx="177.9" cy="110.2" r="2.05"/><circle cx="180.1" cy="112.4" r="2.05"/><circle cx="182.2" cy="114.2" r="2.05"/><circle cx="184.3" cy="116.2" r="2.05"/><circle cx="186.4" cy="118.2" r="2.05"/><circle cx="188.4" cy="120.7" r="2.05"/><circle cx="190.4" cy="123.7" r="2.05"/><circle cx="192.3" cy="126.0" r="2.05"/><circle cx="194.3" cy="128.2" r="2.05"/><circle cx="196.1" cy="129.9" r="2.05"/><circle cx="198.0" cy="131.6" r="2.05"/><circle cx="199.8" cy="134.2" r="2.05"/><circle cx="201.5" cy="136.1" r="2.05"/><circle cx="203.3" cy="138.4" r="2.05"/><circle cx="205.0" cy="140.2" r="2.05"/><circle cx="206.7" cy="142.9" r="2.05"/><circle cx="208.3" cy="144.9" r="2.05"/><circle cx="210.0" cy="147.6" r="2.05"/><circle cx="211.6" cy="150.1" r="2.05"/><circle cx="213.2" cy="152.1" r="2.05"/><circle cx="214.7" cy="154.8" r="2.05"/><circle cx="216.2" cy="157.7" r="2.05"/><circle cx="217.8" cy="160.0" r="2.05"/><circle cx="219.2" cy="162.8" r="2.05"/><circle cx="220.7" cy="165.1" r="2.05"/><circle cx="222.2" cy="167.3" r="2.05"/><circle cx="223.6" cy="169.5" r="2.05"/><circle cx="225.0" cy="172.3" r="2.05"/><circle cx="226.4" cy="174.5" r="2.05"/><circle cx="227.7" cy="177.3" r="2.05"/><circle cx="229.1" cy="179.4" r="2.05"/><circle cx="230.4" cy="181.0" r="2.05"/><circle cx="231.7" cy="183.3" r="2.05"/><circle cx="233.0" cy="185.8" r="2.05"/><circle cx="234.3" cy="187.9" r="2.05"/><circle cx="235.6" cy="189.8" r="2.05"/><circle cx="236.8" cy="192.4" r="2.05"/><circle cx="238.0" cy="193.8" r="2.05"/><circle cx="239.3" cy="195.9" r="2.05"/><circle cx="240.5" cy="198.2" r="2.05"/><circle cx="241.7" cy="200.3" r="2.05"/><circle cx="242.8" cy="201.9" r="2.05"/><circle cx="244.0" cy="202.4" r="2.05"/><circle cx="245.1" cy="203.9" r="2.05"/><circle cx="246.3" cy="206.3" r="2.05"/><circle cx="247.4" cy="205.5" r="2.05"/><circle cx="248.5" cy="207.3" r="2.05"/><circle cx="249.6" cy="210.1" r="2.05"/><circle cx="250.7" cy="210.9" r="2.05"/><circle cx="251.8" cy="212.1" r="2.05"/><circle cx="252.8" cy="214.0" r="2.05"/><circle cx="253.9" cy="215.2" r="2.05"/><circle cx="254.9" cy="214.6" r="2.05"/><circle cx="256.0" cy="217.4" r="2.05"/><circle cx="257.0" cy="217.7" r="2.05"/><circle cx="258.0" cy="218.1" r="2.05"/><circle cx="259.0" cy="220.1" r="2.05"/><circle cx="260.0" cy="222.0" r="2.05"/><circle cx="261.0" cy="220.1" r="2.05"/><circle cx="262.0" cy="221.8" r="2.05"/><circle cx="262.9" cy="225.2" r="2.05"/><circle cx="263.9" cy="225.5" r="2.05"/><circle cx="264.8" cy="225.1" r="2.05"/><circle cx="265.8" cy="225.1" r="2.05"/><circle cx="266.7" cy="228.0" r="2.05"/><circle cx="267.6" cy="227.7" r="2.05"/><circle cx="268.5" cy="230.7" r="2.05"/><circle cx="269.4" cy="227.5" r="2.05"/><circle cx="270.3" cy="230.8" r="2.05"/><circle cx="271.2" cy="231.3" r="2.05"/><circle cx="272.1" cy="233.5" r="2.05"/><circle cx="273.0" cy="231.8" r="2.05"/><circle cx="273.8" cy="233.3" r="2.05"/><circle cx="274.7" cy="230.2" r="2.05"/><circle cx="275.5" cy="237.0" r="2.05"/><circle cx="276.4" cy="234.4" r="2.05"/><circle cx="277.2" cy="234.8" r="2.05"/><circle cx="278.0" cy="234.5" r="2.05"/><circle cx="278.9" cy="233.4" r="2.05"/><circle cx="279.7" cy="237.7" r="2.05"/><circle cx="280.5" cy="237.6" r="2.05"/><circle cx="281.3" cy="238.9" r="2.05"/><circle cx="282.1" cy="236.8" r="2.05"/><circle cx="282.9" cy="237.2" r="2.05"/><circle cx="283.7" cy="238.6" r="2.05"/><circle cx="284.4" cy="238.8" r="2.05"/><circle cx="285.2" cy="239.0" r="2.05"/><circle cx="286.0" cy="241.6" r="2.05"/><circle cx="286.7" cy="241.2" r="2.05"/><circle cx="287.5" cy="239.2" r="2.05"/><circle cx="288.2" cy="239.6" r="2.05"/><circle cx="289.0" cy="241.2" r="2.05"/><circle cx="289.7" cy="242.8" r="2.05"/><circle cx="290.5" cy="240.7" r="2.05"/><circle cx="291.2" cy="244.1" r="2.05"/><circle cx="291.9" cy="244.2" r="2.05"/></g>
<g stroke="#108a10" stroke-width="1.0"><circle cx="130.5" cy="67.4" r="2.05"/><circle cx="134.0" cy="70.6" r="2.05"/><circle cx="137.4" cy="74.4" r="2.05"/><circle cx="140.7" cy="79.1" r="2.05"/><circle cx="143.8" cy="82.7" r="2.05"/><circle cx="146.9" cy="86.1" r="2.05"/><circle cx="149.9" cy="89.0" r="2.05"/><circle cx="152.8" cy="91.9" r="2.05"/><circle cx="155.6" cy="95.5" r="2.05"/><circle cx="158.3" cy="98.3" r="2.05"/><circle cx="161.0" cy="100.9" r="2.05"/><circle cx="163.6" cy="103.9" r="2.05"/><circle cx="166.1" cy="105.5" r="2.05"/><circle cx="168.6" cy="108.3" r="2.05"/><circle cx="171.0" cy="110.2" r="2.05"/><circle cx="173.3" cy="113.2" r="2.05"/><circle cx="175.6" cy="114.8" r="2.05"/><circle cx="177.9" cy="117.4" r="2.05"/><circle cx="180.1" cy="119.5" r="2.05"/><circle cx="182.2" cy="121.4" r="2.05"/><circle cx="184.3" cy="123.7" r="2.05"/><circle cx="186.4" cy="125.9" r="2.05"/><circle cx="188.4" cy="127.1" r="2.05"/><circle cx="190.4" cy="128.5" r="2.05"/><circle cx="192.3" cy="131.1" r="2.05"/><circle cx="194.3" cy="133.2" r="2.05"/><circle cx="196.1" cy="134.8" r="2.05"/><circle cx="198.0" cy="136.9" r="2.05"/><circle cx="199.8" cy="138.8" r="2.05"/><circle cx="201.5" cy="140.1" r="2.05"/><circle cx="203.3" cy="142.9" r="2.05"/><circle cx="205.0" cy="145.2" r="2.05"/><circle cx="206.7" cy="148.0" r="2.05"/><circle cx="208.3" cy="150.6" r="2.05"/><circle cx="210.0" cy="153.0" r="2.05"/><circle cx="211.6" cy="155.5" r="2.05"/><circle cx="213.2" cy="157.2" r="2.05"/><circle cx="214.7" cy="160.0" r="2.05"/><circle cx="216.2" cy="161.1" r="2.05"/><circle cx="217.8" cy="164.2" r="2.05"/><circle cx="219.2" cy="166.0" r="2.05"/><circle cx="220.7" cy="168.4" r="2.05"/><circle cx="222.2" cy="171.9" r="2.05"/><circle cx="223.6" cy="173.7" r="2.05"/><circle cx="225.0" cy="176.3" r="2.05"/><circle cx="226.4" cy="179.5" r="2.05"/><circle cx="227.7" cy="180.5" r="2.05"/><circle cx="229.1" cy="184.2" r="2.05"/><circle cx="230.4" cy="184.9" r="2.05"/><circle cx="231.7" cy="187.8" r="2.05"/><circle cx="233.0" cy="189.5" r="2.05"/><circle cx="234.3" cy="192.7" r="2.05"/><circle cx="235.6" cy="194.3" r="2.05"/><circle cx="236.8" cy="196.1" r="2.05"/><circle cx="238.0" cy="198.5" r="2.05"/><circle cx="239.3" cy="202.5" r="2.05"/><circle cx="240.5" cy="205.6" r="2.05"/><circle cx="241.7" cy="203.4" r="2.05"/><circle cx="242.8" cy="207.9" r="2.05"/><circle cx="244.0" cy="205.8" r="2.05"/><circle cx="245.1" cy="209.7" r="2.05"/><circle cx="246.3" cy="209.5" r="2.05"/><circle cx="247.4" cy="211.7" r="2.05"/><circle cx="248.5" cy="212.8" r="2.05"/><circle cx="249.6" cy="213.3" r="2.05"/><circle cx="250.7" cy="211.3" r="2.05"/><circle cx="251.8" cy="218.0" r="2.05"/><circle cx="252.8" cy="218.8" r="2.05"/><circle cx="253.9" cy="221.4" r="2.05"/><circle cx="254.9" cy="222.0" r="2.05"/><circle cx="256.0" cy="219.8" r="2.05"/><circle cx="257.0" cy="221.3" r="2.05"/><circle cx="258.0" cy="222.2" r="2.05"/><circle cx="259.0" cy="224.7" r="2.05"/><circle cx="260.0" cy="221.5" r="2.05"/><circle cx="261.0" cy="226.6" r="2.05"/><circle cx="262.0" cy="228.2" r="2.05"/><circle cx="262.9" cy="226.5" r="2.05"/><circle cx="263.9" cy="230.3" r="2.05"/><circle cx="264.8" cy="233.9" r="2.05"/><circle cx="265.8" cy="231.3" r="2.05"/><circle cx="266.7" cy="232.4" r="2.05"/><circle cx="267.6" cy="232.6" r="2.05"/><circle cx="268.5" cy="229.9" r="2.05"/><circle cx="269.4" cy="232.2" r="2.05"/><circle cx="270.3" cy="233.5" r="2.05"/><circle cx="271.2" cy="236.7" r="2.05"/><circle cx="272.1" cy="236.4" r="2.05"/><circle cx="273.0" cy="235.4" r="2.05"/><circle cx="273.8" cy="235.8" r="2.05"/><circle cx="274.7" cy="237.4" r="2.05"/><circle cx="275.5" cy="235.2" r="2.05"/><circle cx="276.4" cy="236.8" r="2.05"/><circle cx="277.2" cy="238.4" r="2.05"/><circle cx="278.0" cy="239.9" r="2.05"/><circle cx="278.9" cy="237.5" r="2.05"/><circle cx="279.7" cy="242.8" r="2.05"/><circle cx="280.5" cy="238.0" r="2.05"/><circle cx="281.3" cy="237.6" r="2.05"/><circle cx="282.1" cy="237.9" r="2.05"/><circle cx="282.9" cy="242.7" r="2.05"/><circle cx="283.7" cy="242.5" r="2.05"/><circle cx="284.4" cy="243.1" r="2.05"/><circle cx="285.2" cy="244.4" r="2.05"/><circle cx="286.0" cy="243.4" r="2.05"/><circle cx="286.7" cy="244.3" r="2.05"/><circle cx="287.5" cy="244.9" r="2.05"/><circle cx="288.2" cy="241.1" r="2.05"/><circle cx="289.0" cy="247.4" r="2.05"/><circle cx="289.7" cy="242.9" r="2.05"/><circle cx="290.5" cy="243.2" r="2.05"/><circle cx="291.2" cy="244.7" r="2.05"/><circle cx="291.9" cy="245.1" r="2.05"/></g>
<g stroke="#f02828" stroke-width="1.0" fill="#fff"><circle cx="298.6" cy="252.2" r="2.05"/><circle cx="303.6" cy="252.5" r="2.05"/><circle cx="308.1" cy="252.6" r="2.05"/><circle cx="312.4" cy="253.5" r="2.05"/><circle cx="316.3" cy="254.7" r="2.05"/><circle cx="320.1" cy="255.2" r="2.05"/><circle cx="323.6" cy="255.7" r="2.05"/><circle cx="326.9" cy="256.0" r="2.05"/><circle cx="330.0" cy="256.9" r="2.05"/><circle cx="332.9" cy="257.5" r="2.05"/><circle cx="335.8" cy="258.6" r="2.05"/><circle cx="338.5" cy="258.7" r="2.05"/><circle cx="341.1" cy="259.9" r="2.05"/><circle cx="343.5" cy="260.7" r="2.05"/><circle cx="345.9" cy="261.0" r="2.05"/><circle cx="348.2" cy="262.2" r="2.05"/><circle cx="350.4" cy="263.4" r="2.05"/><circle cx="352.5" cy="264.3" r="2.05"/><circle cx="354.6" cy="266.1" r="2.05"/><circle cx="356.6" cy="265.7" r="2.05"/><circle cx="358.5" cy="268.2" r="2.05"/><circle cx="360.4" cy="268.4" r="2.05"/><circle cx="362.2" cy="270.2" r="2.05"/><circle cx="363.9" cy="272.0" r="2.05"/><circle cx="365.6" cy="272.8" r="2.05"/><circle cx="367.3" cy="274.1" r="2.05"/><circle cx="368.9" cy="275.3" r="2.05"/><circle cx="370.5" cy="277.6" r="2.05"/><circle cx="372.0" cy="278.0" r="2.05"/><circle cx="373.5" cy="278.9" r="2.05"/><circle cx="375.0" cy="279.4" r="2.05"/><circle cx="376.4" cy="280.5" r="2.05"/><circle cx="377.8" cy="281.4" r="2.05"/><circle cx="379.1" cy="281.3" r="2.05"/><circle cx="380.5" cy="282.4" r="2.05"/><circle cx="381.8" cy="283.4" r="2.05"/><circle cx="383.0" cy="283.7" r="2.05"/><circle cx="384.3" cy="284.3" r="2.05"/><circle cx="385.5" cy="285.7" r="2.05"/><circle cx="386.7" cy="285.6" r="2.05"/><circle cx="387.9" cy="287.5" r="2.05"/><circle cx="389.0" cy="287.8" r="2.05"/><circle cx="390.2" cy="288.8" r="2.05"/><circle cx="391.3" cy="288.8" r="2.05"/><circle cx="392.4" cy="289.7" r="2.05"/><circle cx="393.4" cy="290.2" r="2.05"/><circle cx="394.5" cy="290.8" r="2.05"/><circle cx="395.5" cy="291.2" r="2.05"/><circle cx="396.5" cy="292.7" r="2.05"/><circle cx="397.5" cy="292.8" r="2.05"/><circle cx="398.5" cy="294.1" r="2.05"/><circle cx="399.5" cy="294.3" r="2.05"/><circle cx="400.4" cy="295.2" r="2.05"/><circle cx="401.4" cy="295.3" r="2.05"/><circle cx="402.3" cy="296.5" r="2.05"/><circle cx="403.2" cy="296.7" r="2.05"/><circle cx="404.1" cy="298.0" r="2.05"/><circle cx="405.0" cy="298.7" r="2.05"/><circle cx="405.9" cy="298.7" r="2.05"/><circle cx="406.7" cy="300.6" r="2.05"/><circle cx="407.6" cy="300.3" r="2.05"/><circle cx="408.4" cy="300.6" r="2.05"/><circle cx="409.2" cy="302.0" r="2.05"/><circle cx="410.0" cy="302.8" r="2.05"/><circle cx="410.8" cy="303.8" r="2.05"/><circle cx="411.6" cy="304.7" r="2.05"/><circle cx="412.4" cy="304.6" r="2.05"/><circle cx="413.2" cy="306.1" r="2.05"/><circle cx="414.0" cy="306.8" r="2.05"/><circle cx="414.7" cy="308.5" r="2.05"/><circle cx="415.4" cy="308.2" r="2.05"/><circle cx="416.2" cy="309.8" r="2.05"/><circle cx="416.9" cy="309.8" r="2.05"/><circle cx="417.6" cy="310.4" r="2.05"/><circle cx="418.3" cy="310.8" r="2.05"/><circle cx="419.0" cy="312.8" r="2.05"/><circle cx="419.7" cy="314.3" r="2.05"/><circle cx="420.4" cy="313.6" r="2.05"/><circle cx="421.1" cy="313.4" r="2.05"/><circle cx="421.8" cy="313.8" r="2.05"/><circle cx="422.4" cy="316.8" r="2.05"/><circle cx="423.1" cy="315.1" r="2.05"/><circle cx="423.7" cy="315.6" r="2.05"/><circle cx="424.4" cy="316.7" r="2.05"/><circle cx="425.0" cy="317.7" r="2.05"/><circle cx="425.6" cy="317.7" r="2.05"/><circle cx="426.2" cy="317.4" r="2.05"/><circle cx="426.9" cy="315.3" r="2.05"/><circle cx="427.5" cy="318.4" r="2.05"/><circle cx="428.1" cy="318.8" r="2.05"/><circle cx="428.7" cy="318.8" r="2.05"/><circle cx="429.3" cy="319.6" r="2.05"/><circle cx="429.9" cy="318.5" r="2.05"/><circle cx="430.4" cy="319.6" r="2.05"/><circle cx="431.0" cy="319.6" r="2.05"/><circle cx="431.6" cy="321.5" r="2.05"/><circle cx="432.1" cy="322.4" r="2.05"/><circle cx="432.7" cy="320.7" r="2.05"/><circle cx="433.3" cy="321.1" r="2.05"/><circle cx="433.8" cy="321.7" r="2.05"/><circle cx="434.3" cy="323.7" r="2.05"/><circle cx="434.9" cy="323.4" r="2.05"/><circle cx="435.4" cy="321.7" r="2.05"/><circle cx="435.9" cy="322.9" r="2.05"/><circle cx="436.5" cy="324.1" r="2.05"/><circle cx="437.0" cy="322.9" r="2.05"/><circle cx="437.5" cy="325.8" r="2.05"/><circle cx="438.0" cy="324.9" r="2.05"/><circle cx="438.5" cy="326.0" r="2.05"/><circle cx="439.0" cy="324.3" r="2.05"/><circle cx="439.5" cy="323.1" r="2.05"/><circle cx="440.0" cy="325.9" r="2.05"/><circle cx="440.5" cy="327.0" r="2.05"/><circle cx="441.0" cy="327.1" r="2.05"/><circle cx="441.5" cy="326.2" r="2.05"/><circle cx="442.0" cy="329.5" r="2.05"/><circle cx="442.4" cy="326.6" r="2.05"/><circle cx="442.9" cy="328.4" r="2.05"/><circle cx="443.4" cy="326.7" r="2.05"/><circle cx="443.8" cy="330.4" r="2.05"/><circle cx="444.3" cy="329.7" r="2.05"/><circle cx="444.8" cy="329.9" r="2.05"/><circle cx="445.2" cy="332.6" r="2.05"/><circle cx="445.7" cy="329.9" r="2.05"/><circle cx="446.1" cy="332.5" r="2.05"/><circle cx="446.6" cy="330.3" r="2.05"/><circle cx="447.0" cy="331.5" r="2.05"/><circle cx="447.4" cy="332.3" r="2.05"/><circle cx="447.9" cy="332.0" r="2.05"/><circle cx="448.3" cy="331.1" r="2.05"/><circle cx="448.7" cy="334.3" r="2.05"/><circle cx="449.2" cy="332.7" r="2.05"/><circle cx="449.6" cy="331.7" r="2.05"/><circle cx="450.0" cy="332.7" r="2.05"/><circle cx="450.4" cy="331.3" r="2.05"/><circle cx="450.8" cy="331.8" r="2.05"/><circle cx="451.3" cy="332.7" r="2.05"/><circle cx="451.7" cy="333.3" r="2.05"/></g>
<g stroke="#ff9a30" stroke-width="1.1" fill="#fff"><circle cx="298.6" cy="256.1" r="2.05"/><circle cx="303.6" cy="255.3" r="2.05"/><circle cx="308.1" cy="256.8" r="2.05"/><circle cx="312.4" cy="257.3" r="2.05"/><circle cx="316.3" cy="257.7" r="2.05"/><circle cx="320.1" cy="258.2" r="2.05"/><circle cx="323.6" cy="258.5" r="2.05"/><circle cx="326.9" cy="259.3" r="2.05"/><circle cx="330.0" cy="260.7" r="2.05"/><circle cx="332.9" cy="261.0" r="2.05"/><circle cx="335.8" cy="261.6" r="2.05"/><circle cx="338.5" cy="262.8" r="2.05"/><circle cx="341.1" cy="263.1" r="2.05"/><circle cx="343.5" cy="264.7" r="2.05"/><circle cx="345.9" cy="265.9" r="2.05"/><circle cx="348.2" cy="266.5" r="2.05"/><circle cx="350.4" cy="267.6" r="2.05"/><circle cx="352.5" cy="268.5" r="2.05"/><circle cx="354.6" cy="268.9" r="2.05"/><circle cx="356.6" cy="270.1" r="2.05"/><circle cx="358.5" cy="270.6" r="2.05"/><circle cx="360.4" cy="272.0" r="2.05"/><circle cx="362.2" cy="273.8" r="2.05"/><circle cx="363.9" cy="275.3" r="2.05"/><circle cx="365.6" cy="277.1" r="2.05"/><circle cx="367.3" cy="279.1" r="2.05"/><circle cx="368.9" cy="280.2" r="2.05"/><circle cx="370.5" cy="280.9" r="2.05"/><circle cx="372.0" cy="282.3" r="2.05"/><circle cx="373.5" cy="283.1" r="2.05"/><circle cx="375.0" cy="284.4" r="2.05"/><circle cx="376.4" cy="285.0" r="2.05"/><circle cx="377.8" cy="285.0" r="2.05"/><circle cx="379.1" cy="285.4" r="2.05"/><circle cx="380.5" cy="286.9" r="2.05"/><circle cx="381.8" cy="287.1" r="2.05"/><circle cx="383.0" cy="288.1" r="2.05"/><circle cx="384.3" cy="288.8" r="2.05"/><circle cx="385.5" cy="289.5" r="2.05"/><circle cx="386.7" cy="290.7" r="2.05"/><circle cx="387.9" cy="291.1" r="2.05"/><circle cx="389.0" cy="293.0" r="2.05"/><circle cx="390.2" cy="293.0" r="2.05"/><circle cx="391.3" cy="294.2" r="2.05"/><circle cx="392.4" cy="294.8" r="2.05"/><circle cx="393.4" cy="296.2" r="2.05"/><circle cx="394.5" cy="296.3" r="2.05"/><circle cx="395.5" cy="297.2" r="2.05"/><circle cx="396.5" cy="297.9" r="2.05"/><circle cx="397.5" cy="298.9" r="2.05"/><circle cx="398.5" cy="299.9" r="2.05"/><circle cx="399.5" cy="300.2" r="2.05"/><circle cx="400.4" cy="300.1" r="2.05"/><circle cx="401.4" cy="301.4" r="2.05"/><circle cx="402.3" cy="301.1" r="2.05"/><circle cx="403.2" cy="302.5" r="2.05"/><circle cx="404.1" cy="303.8" r="2.05"/><circle cx="405.0" cy="304.6" r="2.05"/><circle cx="405.9" cy="304.7" r="2.05"/><circle cx="406.7" cy="305.4" r="2.05"/><circle cx="407.6" cy="306.1" r="2.05"/><circle cx="408.4" cy="307.1" r="2.05"/><circle cx="409.2" cy="307.9" r="2.05"/><circle cx="410.0" cy="306.9" r="2.05"/><circle cx="410.8" cy="308.3" r="2.05"/><circle cx="411.6" cy="309.6" r="2.05"/><circle cx="412.4" cy="310.7" r="2.05"/><circle cx="413.2" cy="311.3" r="2.05"/><circle cx="414.0" cy="312.9" r="2.05"/><circle cx="414.7" cy="313.4" r="2.05"/><circle cx="415.4" cy="314.3" r="2.05"/><circle cx="416.2" cy="314.5" r="2.05"/><circle cx="416.9" cy="314.6" r="2.05"/><circle cx="417.6" cy="315.7" r="2.05"/><circle cx="418.3" cy="315.9" r="2.05"/><circle cx="419.0" cy="316.5" r="2.05"/><circle cx="419.7" cy="319.5" r="2.05"/><circle cx="420.4" cy="318.9" r="2.05"/><circle cx="421.1" cy="318.7" r="2.05"/><circle cx="421.8" cy="318.2" r="2.05"/><circle cx="422.4" cy="320.1" r="2.05"/><circle cx="423.1" cy="320.4" r="2.05"/><circle cx="423.7" cy="321.4" r="2.05"/><circle cx="424.4" cy="320.5" r="2.05"/><circle cx="425.0" cy="321.6" r="2.05"/><circle cx="425.6" cy="324.4" r="2.05"/><circle cx="426.2" cy="322.5" r="2.05"/><circle cx="426.9" cy="322.8" r="2.05"/><circle cx="427.5" cy="323.5" r="2.05"/><circle cx="428.1" cy="322.9" r="2.05"/><circle cx="428.7" cy="324.7" r="2.05"/><circle cx="429.3" cy="325.6" r="2.05"/><circle cx="429.9" cy="324.5" r="2.05"/><circle cx="430.4" cy="324.0" r="2.05"/><circle cx="431.0" cy="326.9" r="2.05"/><circle cx="431.6" cy="325.6" r="2.05"/><circle cx="432.1" cy="327.3" r="2.05"/><circle cx="432.7" cy="326.6" r="2.05"/><circle cx="433.3" cy="327.0" r="2.05"/><circle cx="433.8" cy="326.9" r="2.05"/><circle cx="434.3" cy="326.0" r="2.05"/><circle cx="434.9" cy="327.1" r="2.05"/><circle cx="435.4" cy="326.7" r="2.05"/><circle cx="435.9" cy="327.0" r="2.05"/><circle cx="436.5" cy="329.9" r="2.05"/><circle cx="437.0" cy="330.5" r="2.05"/><circle cx="437.5" cy="330.2" r="2.05"/><circle cx="438.0" cy="330.0" r="2.05"/><circle cx="438.5" cy="329.7" r="2.05"/><circle cx="439.0" cy="331.6" r="2.05"/><circle cx="439.5" cy="329.1" r="2.05"/><circle cx="440.0" cy="330.8" r="2.05"/><circle cx="440.5" cy="330.8" r="2.05"/><circle cx="441.0" cy="328.9" r="2.05"/><circle cx="441.5" cy="332.2" r="2.05"/><circle cx="442.0" cy="332.3" r="2.05"/><circle cx="442.4" cy="331.5" r="2.05"/><circle cx="442.9" cy="333.3" r="2.05"/><circle cx="443.4" cy="331.4" r="2.05"/><circle cx="443.8" cy="333.1" r="2.05"/><circle cx="444.3" cy="332.4" r="2.05"/><circle cx="444.8" cy="335.8" r="2.05"/><circle cx="445.2" cy="333.3" r="2.05"/><circle cx="445.7" cy="336.5" r="2.05"/><circle cx="446.1" cy="336.2" r="2.05"/><circle cx="446.6" cy="331.9" r="2.05"/><circle cx="447.0" cy="335.8" r="2.05"/><circle cx="447.4" cy="335.6" r="2.05"/><circle cx="447.9" cy="334.5" r="2.05"/><circle cx="448.3" cy="335.1" r="2.05"/><circle cx="448.7" cy="336.4" r="2.05"/><circle cx="449.2" cy="338.2" r="2.05"/><circle cx="449.6" cy="334.2" r="2.05"/><circle cx="450.0" cy="335.6" r="2.05"/><circle cx="450.4" cy="335.1" r="2.05"/><circle cx="450.8" cy="338.5" r="2.05"/><circle cx="451.3" cy="335.7" r="2.05"/><circle cx="451.7" cy="335.7" r="2.05"/><circle cx="452.1" cy="339.8" r="2.05"/><circle cx="452.5" cy="336.6" r="2.05"/><circle cx="452.9" cy="337.4" r="2.05"/><circle cx="453.3" cy="338.4" r="2.05"/><circle cx="453.7" cy="336.7" r="2.05"/><circle cx="454.1" cy="339.5" r="2.05"/><circle cx="454.4" cy="339.6" r="2.05"/><circle cx="454.8" cy="336.3" r="2.05"/><circle cx="455.2" cy="340.9" r="2.05"/><circle cx="455.6" cy="341.1" r="2.05"/><circle cx="456.0" cy="340.9" r="2.05"/></g>
<g stroke="#108a10" stroke-width="1.0" fill="#fff"><circle cx="298.6" cy="249.8" r="2.05"/><circle cx="303.6" cy="250.2" r="2.05"/><circle cx="308.1" cy="250.7" r="2.05"/><circle cx="312.4" cy="250.5" r="2.05"/><circle cx="316.3" cy="251.1" r="2.05"/><circle cx="320.1" cy="251.6" r="2.05"/><circle cx="323.6" cy="251.5" r="2.05"/><circle cx="326.9" cy="252.5" r="2.05"/><circle cx="330.0" cy="253.9" r="2.05"/><circle cx="332.9" cy="254.4" r="2.05"/><circle cx="335.8" cy="255.4" r="2.05"/><circle cx="338.5" cy="255.8" r="2.05"/><circle cx="341.1" cy="256.5" r="2.05"/><circle cx="343.5" cy="257.4" r="2.05"/><circle cx="345.9" cy="258.6" r="2.05"/><circle cx="348.2" cy="259.5" r="2.05"/><circle cx="350.4" cy="260.0" r="2.05"/><circle cx="352.5" cy="261.1" r="2.05"/><circle cx="354.6" cy="262.3" r="2.05"/><circle cx="356.6" cy="263.3" r="2.05"/><circle cx="358.5" cy="264.5" r="2.05"/><circle cx="360.4" cy="265.8" r="2.05"/><circle cx="362.2" cy="266.9" r="2.05"/><circle cx="363.9" cy="267.9" r="2.05"/><circle cx="365.6" cy="269.2" r="2.05"/><circle cx="367.3" cy="270.5" r="2.05"/><circle cx="368.9" cy="272.1" r="2.05"/><circle cx="370.5" cy="273.3" r="2.05"/><circle cx="372.0" cy="274.1" r="2.05"/><circle cx="373.5" cy="274.9" r="2.05"/><circle cx="375.0" cy="275.4" r="2.05"/><circle cx="376.4" cy="276.3" r="2.05"/><circle cx="377.8" cy="276.2" r="2.05"/><circle cx="379.1" cy="277.6" r="2.05"/><circle cx="380.5" cy="277.6" r="2.05"/><circle cx="381.8" cy="278.8" r="2.05"/><circle cx="383.0" cy="279.7" r="2.05"/><circle cx="384.3" cy="281.0" r="2.05"/><circle cx="385.5" cy="281.5" r="2.05"/><circle cx="386.7" cy="281.6" r="2.05"/><circle cx="387.9" cy="283.1" r="2.05"/><circle cx="389.0" cy="283.9" r="2.05"/><circle cx="390.2" cy="284.8" r="2.05"/><circle cx="391.3" cy="284.9" r="2.05"/><circle cx="392.4" cy="286.3" r="2.05"/><circle cx="393.4" cy="287.3" r="2.05"/><circle cx="394.5" cy="287.5" r="2.05"/><circle cx="395.5" cy="288.6" r="2.05"/><circle cx="396.5" cy="289.5" r="2.05"/><circle cx="397.5" cy="289.6" r="2.05"/><circle cx="398.5" cy="289.7" r="2.05"/><circle cx="399.5" cy="291.5" r="2.05"/><circle cx="400.4" cy="292.0" r="2.05"/><circle cx="401.4" cy="292.9" r="2.05"/><circle cx="402.3" cy="293.6" r="2.05"/><circle cx="403.2" cy="294.6" r="2.05"/><circle cx="404.1" cy="294.9" r="2.05"/><circle cx="405.0" cy="295.0" r="2.05"/><circle cx="405.9" cy="296.9" r="2.05"/><circle cx="406.7" cy="297.2" r="2.05"/><circle cx="407.6" cy="298.5" r="2.05"/><circle cx="408.4" cy="298.1" r="2.05"/><circle cx="409.2" cy="299.6" r="2.05"/><circle cx="410.0" cy="301.7" r="2.05"/><circle cx="410.8" cy="300.2" r="2.05"/><circle cx="411.6" cy="300.1" r="2.05"/><circle cx="412.4" cy="303.1" r="2.05"/><circle cx="413.2" cy="302.1" r="2.05"/><circle cx="414.0" cy="303.6" r="2.05"/><circle cx="414.7" cy="304.0" r="2.05"/><circle cx="415.4" cy="304.7" r="2.05"/><circle cx="416.2" cy="304.4" r="2.05"/><circle cx="416.9" cy="303.8" r="2.05"/><circle cx="417.6" cy="305.9" r="2.05"/><circle cx="418.3" cy="305.7" r="2.05"/><circle cx="419.0" cy="308.3" r="2.05"/><circle cx="419.7" cy="308.1" r="2.05"/><circle cx="420.4" cy="308.8" r="2.05"/><circle cx="421.1" cy="308.7" r="2.05"/><circle cx="421.8" cy="308.3" r="2.05"/><circle cx="422.4" cy="309.5" r="2.05"/><circle cx="423.1" cy="309.3" r="2.05"/><circle cx="423.7" cy="311.2" r="2.05"/><circle cx="424.4" cy="309.7" r="2.05"/><circle cx="425.0" cy="312.1" r="2.05"/><circle cx="425.6" cy="312.9" r="2.05"/><circle cx="426.2" cy="313.8" r="2.05"/><circle cx="426.9" cy="312.1" r="2.05"/><circle cx="427.5" cy="312.6" r="2.05"/><circle cx="428.1" cy="311.9" r="2.05"/><circle cx="428.7" cy="312.9" r="2.05"/><circle cx="429.3" cy="313.9" r="2.05"/><circle cx="429.9" cy="314.9" r="2.05"/><circle cx="430.4" cy="315.0" r="2.05"/><circle cx="431.0" cy="317.3" r="2.05"/><circle cx="431.6" cy="315.9" r="2.05"/><circle cx="432.1" cy="317.8" r="2.05"/><circle cx="432.7" cy="317.1" r="2.05"/><circle cx="433.3" cy="316.2" r="2.05"/><circle cx="433.8" cy="317.1" r="2.05"/><circle cx="434.3" cy="315.4" r="2.05"/><circle cx="434.9" cy="320.0" r="2.05"/><circle cx="435.4" cy="318.8" r="2.05"/><circle cx="435.9" cy="319.2" r="2.05"/><circle cx="436.5" cy="317.7" r="2.05"/><circle cx="437.0" cy="319.2" r="2.05"/><circle cx="437.5" cy="319.2" r="2.05"/><circle cx="438.0" cy="320.4" r="2.05"/><circle cx="438.5" cy="320.6" r="2.05"/><circle cx="439.0" cy="320.6" r="2.05"/><circle cx="439.5" cy="321.0" r="2.05"/><circle cx="440.0" cy="320.2" r="2.05"/><circle cx="440.5" cy="319.4" r="2.05"/><circle cx="441.0" cy="320.1" r="2.05"/><circle cx="441.5" cy="321.7" r="2.05"/><circle cx="442.0" cy="324.5" r="2.05"/><circle cx="442.4" cy="323.0" r="2.05"/><circle cx="442.9" cy="322.8" r="2.05"/><circle cx="443.4" cy="321.9" r="2.05"/><circle cx="443.8" cy="323.6" r="2.05"/><circle cx="444.3" cy="321.6" r="2.05"/><circle cx="444.8" cy="321.7" r="2.05"/><circle cx="445.2" cy="322.5" r="2.05"/><circle cx="445.7" cy="324.6" r="2.05"/><circle cx="446.1" cy="323.5" r="2.05"/><circle cx="446.6" cy="323.2" r="2.05"/><circle cx="447.0" cy="325.0" r="2.05"/><circle cx="447.4" cy="324.6" r="2.05"/><circle cx="447.9" cy="327.1" r="2.05"/><circle cx="448.3" cy="322.7" r="2.05"/><circle cx="448.7" cy="322.0" r="2.05"/><circle cx="449.2" cy="325.3" r="2.05"/><circle cx="449.6" cy="325.8" r="2.05"/><circle cx="450.0" cy="326.8" r="2.05"/><circle cx="450.4" cy="329.0" r="2.05"/><circle cx="450.8" cy="324.0" r="2.05"/><circle cx="451.3" cy="323.9" r="2.05"/><circle cx="451.7" cy="324.0" r="2.05"/><circle cx="452.1" cy="325.1" r="2.05"/><circle cx="452.5" cy="325.6" r="2.05"/><circle cx="452.9" cy="329.5" r="2.05"/><circle cx="453.3" cy="328.6" r="2.05"/><circle cx="453.7" cy="327.4" r="2.05"/><circle cx="454.1" cy="323.9" r="2.05"/><circle cx="454.4" cy="326.4" r="2.05"/><circle cx="454.8" cy="326.9" r="2.05"/><circle cx="455.2" cy="327.4" r="2.05"/><circle cx="455.6" cy="327.8" r="2.05"/><circle cx="456.0" cy="330.0" r="2.05"/><circle cx="456.4" cy="330.6" r="2.05"/><circle cx="456.7" cy="328.4" r="2.05"/><circle cx="457.1" cy="327.3" r="2.05"/><circle cx="457.5" cy="329.1" r="2.05"/><circle cx="457.9" cy="328.4" r="2.05"/><circle cx="458.2" cy="334.0" r="2.05"/><circle cx="458.6" cy="332.9" r="2.05"/><circle cx="458.9" cy="328.7" r="2.05"/><circle cx="459.3" cy="329.8" r="2.05"/><circle cx="459.7" cy="324.2" r="2.05"/><circle cx="460.0" cy="331.7" r="2.05"/><circle cx="460.4" cy="330.2" r="2.05"/><circle cx="460.7" cy="331.3" r="2.05"/><circle cx="461.1" cy="330.6" r="2.05"/><circle cx="461.4" cy="324.3" r="2.05"/><circle cx="461.8" cy="329.2" r="2.05"/><circle cx="462.1" cy="334.1" r="2.05"/><circle cx="462.5" cy="333.3" r="2.05"/><circle cx="462.8" cy="329.5" r="2.05"/><circle cx="463.1" cy="331.8" r="2.05"/><circle cx="463.5" cy="330.4" r="2.05"/><circle cx="463.8" cy="330.6" r="2.05"/><circle cx="464.1" cy="330.9" r="2.05"/><circle cx="464.5" cy="335.8" r="2.05"/><circle cx="464.8" cy="330.1" r="2.05"/><circle cx="465.1" cy="332.6" r="2.05"/><circle cx="465.5" cy="331.8" r="2.05"/><circle cx="465.8" cy="335.5" r="2.05"/><circle cx="466.1" cy="335.7" r="2.05"/><circle cx="466.4" cy="336.4" r="2.05"/><circle cx="466.7" cy="334.5" r="2.05"/><circle cx="467.1" cy="324.9" r="2.05"/><circle cx="467.4" cy="334.1" r="2.05"/><circle cx="467.7" cy="325.9" r="2.05"/><circle cx="468.0" cy="330.7" r="2.05"/><circle cx="468.3" cy="334.4" r="2.05"/><circle cx="468.6" cy="336.8" r="2.05"/><circle cx="468.9" cy="336.1" r="2.05"/><circle cx="469.2" cy="334.9" r="2.05"/><circle cx="469.5" cy="336.3" r="2.05"/><circle cx="469.8" cy="333.2" r="2.05"/><circle cx="470.1" cy="332.9" r="2.05"/><circle cx="470.4" cy="332.3" r="2.05"/><circle cx="470.7" cy="334.5" r="2.05"/><circle cx="471.0" cy="332.0" r="2.05"/><circle cx="471.3" cy="332.1" r="2.05"/><circle cx="471.6" cy="331.9" r="2.05"/><circle cx="471.9" cy="334.8" r="2.05"/><circle cx="472.2" cy="337.2" r="2.05"/><circle cx="472.5" cy="332.9" r="2.05"/><circle cx="472.8" cy="333.1" r="2.05"/><circle cx="473.1" cy="332.8" r="2.05"/><circle cx="473.4" cy="336.4" r="2.05"/><circle cx="473.7" cy="334.7" r="2.05"/><circle cx="474.0" cy="328.8" r="2.05"/><circle cx="474.3" cy="330.4" r="2.05"/><circle cx="474.6" cy="328.1" r="2.05"/><circle cx="474.9" cy="328.8" r="2.05"/><circle cx="475.2" cy="327.9" r="2.05"/><circle cx="475.5" cy="338.1" r="2.05"/><circle cx="475.8" cy="333.4" r="2.05"/><circle cx="476.1" cy="333.0" r="2.05"/><circle cx="476.4" cy="329.5" r="2.05"/><circle cx="476.7" cy="329.4" r="2.05"/><circle cx="477.0" cy="326.9" r="2.05"/><circle cx="477.3" cy="328.5" r="2.05"/><circle cx="477.6" cy="333.1" r="2.05"/><circle cx="477.9" cy="334.8" r="2.05"/><circle cx="478.2" cy="332.9" r="2.05"/><circle cx="478.5" cy="327.5" r="2.05"/><circle cx="478.8" cy="326.4" r="2.05"/><circle cx="479.1" cy="328.3" r="2.05"/><circle cx="479.4" cy="332.7" r="2.05"/><circle cx="479.7" cy="329.1" r="2.05"/><circle cx="480.0" cy="320.0" r="2.05"/><circle cx="480.3" cy="324.4" r="2.05"/><circle cx="480.6" cy="323.9" r="2.05"/><circle cx="480.9" cy="331.3" r="2.05"/><circle cx="481.2" cy="329.8" r="2.05"/><circle cx="481.5" cy="322.2" r="2.05"/><circle cx="481.8" cy="329.0" r="2.05"/><circle cx="482.1" cy="326.7" r="2.05"/><circle cx="482.4" cy="327.8" r="2.05"/><circle cx="482.7" cy="322.7" r="2.05"/><circle cx="483.0" cy="320.4" r="2.05"/><circle cx="483.3" cy="328.9" r="2.05"/><circle cx="483.6" cy="327.0" r="2.05"/><circle cx="483.9" cy="324.3" r="2.05"/><circle cx="484.2" cy="327.1" r="2.05"/><circle cx="484.5" cy="324.2" r="2.05"/><circle cx="484.8" cy="326.1" r="2.05"/><circle cx="485.1" cy="320.5" r="2.05"/><circle cx="485.4" cy="320.3" r="2.05"/><circle cx="485.7" cy="325.1" r="2.05"/><circle cx="486.0" cy="319.0" r="2.05"/><circle cx="486.3" cy="320.3" r="2.05"/><circle cx="486.6" cy="325.0" r="2.05"/><circle cx="486.9" cy="321.2" r="2.05"/><circle cx="487.2" cy="323.6" r="2.05"/><circle cx="487.5" cy="326.0" r="2.05"/><circle cx="487.8" cy="316.6" r="2.05"/><circle cx="488.1" cy="315.2" r="2.05"/><circle cx="488.4" cy="319.1" r="2.05"/><circle cx="488.7" cy="318.7" r="2.05"/><circle cx="489.0" cy="318.8" r="2.05"/><circle cx="489.3" cy="324.4" r="2.05"/><circle cx="489.6" cy="316.9" r="2.05"/><circle cx="489.9" cy="312.5" r="2.05"/></g>
<g stroke="#111111" stroke-width="0.95" fill="#fff"><circle cx="298.6" cy="245.8" r="2.05"/><circle cx="303.6" cy="246.4" r="2.05"/><circle cx="308.1" cy="247.0" r="2.05"/><circle cx="312.4" cy="247.8" r="2.05"/><circle cx="316.3" cy="248.0" r="2.05"/><circle cx="320.1" cy="248.1" r="2.05"/><circle cx="323.6" cy="248.8" r="2.05"/><circle cx="326.9" cy="249.3" r="2.05"/><circle cx="330.0" cy="250.5" r="2.05"/><circle cx="332.9" cy="251.1" r="2.05"/><circle cx="335.8" cy="251.6" r="2.05"/><circle cx="338.5" cy="252.4" r="2.05"/><circle cx="341.1" cy="253.4" r="2.05"/><circle cx="343.5" cy="254.1" r="2.05"/><circle cx="345.9" cy="255.4" r="2.05"/><circle cx="348.2" cy="255.8" r="2.05"/><circle cx="350.4" cy="256.8" r="2.05"/><circle cx="352.5" cy="257.7" r="2.05"/><circle cx="354.6" cy="258.7" r="2.05"/><circle cx="356.6" cy="259.8" r="2.05"/><circle cx="358.5" cy="260.3" r="2.05"/><circle cx="360.4" cy="261.8" r="2.05"/><circle cx="362.2" cy="262.5" r="2.05"/><circle cx="363.9" cy="263.9" r="2.05"/><circle cx="365.6" cy="265.2" r="2.05"/><circle cx="367.3" cy="265.7" r="2.05"/><circle cx="368.9" cy="267.1" r="2.05"/><circle cx="370.5" cy="268.4" r="2.05"/><circle cx="372.0" cy="268.6" r="2.05"/><circle cx="373.5" cy="270.0" r="2.05"/><circle cx="375.0" cy="270.3" r="2.05"/><circle cx="376.4" cy="271.4" r="2.05"/><circle cx="377.8" cy="271.6" r="2.05"/><circle cx="379.1" cy="272.8" r="2.05"/><circle cx="380.5" cy="273.3" r="2.05"/><circle cx="381.8" cy="274.6" r="2.05"/><circle cx="383.0" cy="275.0" r="2.05"/><circle cx="384.3" cy="275.7" r="2.05"/><circle cx="385.5" cy="276.6" r="2.05"/><circle cx="386.7" cy="277.6" r="2.05"/><circle cx="387.9" cy="278.2" r="2.05"/><circle cx="389.0" cy="279.0" r="2.05"/><circle cx="390.2" cy="279.5" r="2.05"/><circle cx="391.3" cy="281.1" r="2.05"/><circle cx="392.4" cy="281.1" r="2.05"/><circle cx="393.4" cy="282.0" r="2.05"/><circle cx="394.5" cy="283.3" r="2.05"/><circle cx="395.5" cy="283.7" r="2.05"/><circle cx="396.5" cy="284.5" r="2.05"/><circle cx="397.5" cy="285.9" r="2.05"/><circle cx="398.5" cy="285.9" r="2.05"/><circle cx="399.5" cy="286.7" r="2.05"/><circle cx="400.4" cy="287.3" r="2.05"/><circle cx="401.4" cy="287.7" r="2.05"/><circle cx="402.3" cy="288.5" r="2.05"/><circle cx="403.2" cy="288.8" r="2.05"/><circle cx="404.1" cy="290.2" r="2.05"/><circle cx="405.0" cy="290.4" r="2.05"/><circle cx="405.9" cy="292.0" r="2.05"/><circle cx="406.7" cy="293.0" r="2.05"/><circle cx="407.6" cy="293.7" r="2.05"/><circle cx="408.4" cy="292.2" r="2.05"/><circle cx="409.2" cy="294.0" r="2.05"/><circle cx="410.0" cy="295.4" r="2.05"/><circle cx="410.8" cy="294.5" r="2.05"/><circle cx="411.6" cy="294.8" r="2.05"/><circle cx="412.4" cy="295.8" r="2.05"/><circle cx="413.2" cy="297.1" r="2.05"/><circle cx="414.0" cy="298.1" r="2.05"/><circle cx="414.7" cy="298.7" r="2.05"/><circle cx="415.4" cy="298.8" r="2.05"/><circle cx="416.2" cy="300.7" r="2.05"/><circle cx="416.9" cy="299.6" r="2.05"/><circle cx="417.6" cy="301.6" r="2.05"/><circle cx="418.3" cy="301.9" r="2.05"/><circle cx="419.0" cy="300.7" r="2.05"/><circle cx="419.7" cy="303.1" r="2.05"/><circle cx="420.4" cy="303.6" r="2.05"/><circle cx="421.1" cy="306.3" r="2.05"/><circle cx="421.8" cy="306.4" r="2.05"/><circle cx="422.4" cy="305.9" r="2.05"/><circle cx="423.1" cy="306.4" r="2.05"/><circle cx="423.7" cy="305.6" r="2.05"/><circle cx="424.4" cy="306.4" r="2.05"/><circle cx="425.0" cy="306.7" r="2.05"/><circle cx="425.6" cy="305.2" r="2.05"/><circle cx="426.2" cy="308.8" r="2.05"/><circle cx="426.9" cy="305.9" r="2.05"/><circle cx="427.5" cy="309.6" r="2.05"/><circle cx="428.1" cy="310.3" r="2.05"/><circle cx="428.7" cy="313.6" r="2.05"/><circle cx="429.3" cy="311.2" r="2.05"/><circle cx="429.9" cy="310.3" r="2.05"/><circle cx="430.4" cy="311.7" r="2.05"/><circle cx="431.0" cy="310.6" r="2.05"/><circle cx="431.6" cy="312.9" r="2.05"/><circle cx="432.1" cy="313.6" r="2.05"/><circle cx="432.7" cy="313.8" r="2.05"/><circle cx="433.3" cy="313.9" r="2.05"/><circle cx="433.8" cy="313.4" r="2.05"/><circle cx="434.3" cy="312.0" r="2.05"/><circle cx="434.9" cy="313.3" r="2.05"/><circle cx="435.4" cy="315.5" r="2.05"/><circle cx="435.9" cy="315.0" r="2.05"/><circle cx="436.5" cy="315.2" r="2.05"/><circle cx="437.0" cy="315.2" r="2.05"/><circle cx="437.5" cy="315.7" r="2.05"/><circle cx="438.0" cy="316.9" r="2.05"/><circle cx="438.5" cy="316.7" r="2.05"/><circle cx="439.0" cy="318.1" r="2.05"/><circle cx="439.5" cy="318.7" r="2.05"/><circle cx="440.0" cy="318.3" r="2.05"/><circle cx="440.5" cy="318.9" r="2.05"/><circle cx="441.0" cy="317.9" r="2.05"/><circle cx="441.5" cy="321.0" r="2.05"/><circle cx="442.0" cy="319.4" r="2.05"/><circle cx="442.4" cy="315.6" r="2.05"/><circle cx="442.9" cy="320.3" r="2.05"/><circle cx="443.4" cy="317.2" r="2.05"/><circle cx="443.8" cy="320.0" r="2.05"/><circle cx="444.3" cy="320.8" r="2.05"/><circle cx="444.8" cy="321.1" r="2.05"/><circle cx="445.2" cy="319.0" r="2.05"/><circle cx="445.7" cy="318.1" r="2.05"/><circle cx="446.1" cy="323.4" r="2.05"/><circle cx="446.6" cy="322.5" r="2.05"/><circle cx="447.0" cy="322.6" r="2.05"/><circle cx="447.4" cy="318.3" r="2.05"/><circle cx="447.9" cy="321.5" r="2.05"/><circle cx="448.3" cy="323.8" r="2.05"/><circle cx="448.7" cy="319.6" r="2.05"/><circle cx="449.2" cy="322.3" r="2.05"/><circle cx="449.6" cy="323.1" r="2.05"/><circle cx="450.0" cy="322.1" r="2.05"/><circle cx="450.4" cy="322.6" r="2.05"/><circle cx="450.8" cy="323.4" r="2.05"/><circle cx="451.3" cy="322.1" r="2.05"/><circle cx="451.7" cy="322.0" r="2.05"/><circle cx="452.1" cy="323.4" r="2.05"/><circle cx="452.5" cy="325.2" r="2.05"/><circle cx="452.9" cy="324.0" r="2.05"/><circle cx="453.3" cy="328.7" r="2.05"/><circle cx="453.7" cy="321.3" r="2.05"/><circle cx="454.1" cy="325.8" r="2.05"/><circle cx="454.4" cy="326.0" r="2.05"/><circle cx="454.8" cy="328.3" r="2.05"/><circle cx="455.2" cy="326.1" r="2.05"/><circle cx="455.6" cy="327.6" r="2.05"/><circle cx="456.0" cy="325.6" r="2.05"/><circle cx="456.4" cy="327.0" r="2.05"/><circle cx="456.7" cy="326.8" r="2.05"/><circle cx="457.1" cy="329.8" r="2.05"/><circle cx="457.5" cy="327.6" r="2.05"/><circle cx="457.9" cy="327.4" r="2.05"/><circle cx="458.2" cy="325.6" r="2.05"/><circle cx="458.6" cy="329.0" r="2.05"/><circle cx="458.9" cy="331.8" r="2.05"/><circle cx="459.3" cy="332.6" r="2.05"/><circle cx="459.7" cy="327.9" r="2.05"/><circle cx="460.0" cy="329.1" r="2.05"/><circle cx="460.4" cy="329.1" r="2.05"/><circle cx="460.7" cy="330.1" r="2.05"/><circle cx="461.1" cy="331.4" r="2.05"/><circle cx="461.4" cy="327.4" r="2.05"/><circle cx="461.8" cy="330.2" r="2.05"/><circle cx="462.1" cy="334.6" r="2.05"/><circle cx="462.5" cy="333.0" r="2.05"/><circle cx="462.8" cy="333.2" r="2.05"/><circle cx="463.1" cy="328.2" r="2.05"/><circle cx="463.5" cy="332.9" r="2.05"/><circle cx="463.8" cy="334.3" r="2.05"/><circle cx="464.1" cy="332.4" r="2.05"/><circle cx="464.5" cy="329.3" r="2.05"/><circle cx="464.8" cy="331.7" r="2.05"/><circle cx="465.1" cy="334.7" r="2.05"/><circle cx="465.5" cy="334.4" r="2.05"/><circle cx="465.8" cy="331.0" r="2.05"/><circle cx="466.1" cy="332.2" r="2.05"/><circle cx="466.4" cy="337.2" r="2.05"/><circle cx="466.7" cy="335.2" r="2.05"/><circle cx="467.1" cy="338.9" r="2.05"/><circle cx="467.4" cy="335.2" r="2.05"/><circle cx="467.7" cy="336.9" r="2.05"/><circle cx="468.0" cy="335.5" r="2.05"/><circle cx="468.3" cy="333.8" r="2.05"/><circle cx="468.6" cy="336.5" r="2.05"/><circle cx="468.9" cy="337.6" r="2.05"/><circle cx="469.2" cy="331.9" r="2.05"/><circle cx="469.5" cy="334.3" r="2.05"/><circle cx="469.8" cy="335.4" r="2.05"/><circle cx="470.1" cy="340.4" r="2.05"/><circle cx="470.4" cy="331.0" r="2.05"/><circle cx="470.7" cy="335.9" r="2.05"/><circle cx="471.0" cy="335.1" r="2.05"/><circle cx="471.3" cy="335.5" r="2.05"/><circle cx="471.6" cy="334.9" r="2.05"/><circle cx="471.9" cy="333.6" r="2.05"/><circle cx="472.2" cy="328.7" r="2.05"/><circle cx="472.5" cy="335.7" r="2.05"/><circle cx="472.8" cy="324.0" r="2.05"/><circle cx="473.1" cy="332.0" r="2.05"/><circle cx="473.4" cy="333.5" r="2.05"/><circle cx="473.7" cy="341.2" r="2.05"/><circle cx="474.0" cy="334.5" r="2.05"/><circle cx="474.3" cy="336.0" r="2.05"/><circle cx="474.6" cy="329.3" r="2.05"/><circle cx="474.9" cy="329.0" r="2.05"/><circle cx="475.2" cy="336.7" r="2.05"/><circle cx="475.5" cy="341.1" r="2.05"/><circle cx="475.8" cy="336.0" r="2.05"/><circle cx="476.1" cy="330.2" r="2.05"/><circle cx="476.4" cy="337.3" r="2.05"/><circle cx="476.7" cy="333.6" r="2.05"/><circle cx="477.0" cy="331.7" r="2.05"/><circle cx="477.3" cy="340.7" r="2.05"/><circle cx="477.6" cy="334.7" r="2.05"/><circle cx="477.9" cy="333.8" r="2.05"/><circle cx="478.2" cy="334.4" r="2.05"/><circle cx="478.5" cy="340.2" r="2.05"/><circle cx="478.8" cy="337.4" r="2.05"/><circle cx="479.1" cy="331.9" r="2.05"/><circle cx="479.4" cy="337.1" r="2.05"/><circle cx="479.7" cy="332.5" r="2.05"/><circle cx="480.0" cy="329.1" r="2.05"/><circle cx="480.3" cy="327.2" r="2.05"/><circle cx="480.6" cy="324.9" r="2.05"/><circle cx="480.9" cy="329.5" r="2.05"/><circle cx="481.2" cy="332.5" r="2.05"/><circle cx="481.5" cy="327.4" r="2.05"/><circle cx="481.8" cy="323.9" r="2.05"/><circle cx="482.1" cy="333.1" r="2.05"/><circle cx="482.4" cy="328.7" r="2.05"/><circle cx="482.7" cy="327.7" r="2.05"/><circle cx="483.0" cy="331.0" r="2.05"/><circle cx="483.3" cy="324.2" r="2.05"/><circle cx="483.6" cy="331.1" r="2.05"/><circle cx="483.9" cy="327.7" r="2.05"/><circle cx="484.2" cy="331.8" r="2.05"/><circle cx="484.5" cy="317.5" r="2.05"/><circle cx="484.8" cy="332.2" r="2.05"/><circle cx="485.1" cy="319.7" r="2.05"/><circle cx="485.4" cy="327.6" r="2.05"/><circle cx="485.7" cy="327.7" r="2.05"/><circle cx="486.0" cy="326.1" r="2.05"/><circle cx="486.3" cy="334.7" r="2.05"/><circle cx="486.6" cy="332.0" r="2.05"/><circle cx="486.9" cy="320.3" r="2.05"/><circle cx="487.2" cy="328.8" r="2.05"/><circle cx="487.5" cy="316.9" r="2.05"/><circle cx="487.8" cy="319.9" r="2.05"/><circle cx="488.1" cy="331.0" r="2.05"/><circle cx="488.4" cy="325.3" r="2.05"/><circle cx="488.7" cy="322.2" r="2.05"/><circle cx="489.0" cy="325.6" r="2.05"/><circle cx="489.3" cy="315.3" r="2.05"/><circle cx="489.6" cy="317.9" r="2.05"/><circle cx="489.9" cy="321.5" r="2.05"/></g>
<g stroke="#30ee30" stroke-width="1.1" fill="#fff"><circle cx="483.6" cy="362.8" r="2.05"/><circle cx="485.9" cy="361.0" r="2.05"/><circle cx="482.8" cy="366.4" r="2.05"/><circle cx="492.5" cy="331.7" r="2.05"/><circle cx="492.7" cy="342.2" r="2.05"/><circle cx="489.3" cy="317.0" r="2.05"/><circle cx="485.3" cy="363.7" r="2.05"/><circle cx="486.8" cy="356.1" r="2.05"/><circle cx="477.1" cy="341.2" r="2.05"/><circle cx="478.3" cy="340.8" r="2.05"/><circle cx="485.4" cy="345.4" r="2.05"/><circle cx="489.3" cy="389.3" r="2.05"/><circle cx="487.4" cy="360.0" r="2.05"/><circle cx="489.2" cy="362.1" r="2.05"/><circle cx="485.0" cy="372.3" r="2.05"/><circle cx="487.1" cy="374.9" r="2.05"/><circle cx="488.8" cy="346.2" r="2.05"/><circle cx="491.8" cy="323.7" r="2.05"/><circle cx="489.4" cy="365.0" r="2.05"/><circle cx="487.8" cy="332.9" r="2.05"/><circle cx="486.1" cy="347.9" r="2.05"/><circle cx="488.3" cy="335.0" r="2.05"/><circle cx="484.4" cy="351.1" r="2.05"/><circle cx="493.9" cy="380.3" r="2.05"/><circle cx="488.2" cy="357.7" r="2.05"/><circle cx="490.7" cy="324.0" r="2.05"/><circle cx="493.5" cy="325.3" r="2.05"/><circle cx="492.4" cy="357.8" r="2.05"/><circle cx="478.3" cy="340.2" r="2.05"/><circle cx="483.7" cy="343.4" r="2.05"/><circle cx="483.4" cy="348.2" r="2.05"/><circle cx="489.1" cy="334.1" r="2.05"/><circle cx="488.3" cy="324.1" r="2.05"/><circle cx="486.1" cy="361.0" r="2.05"/><circle cx="484.1" cy="346.6" r="2.05"/><circle cx="493.3" cy="320.1" r="2.05"/><circle cx="484.9" cy="379.4" r="2.05"/><circle cx="490.2" cy="314.1" r="2.05"/><circle cx="491.5" cy="346.2" r="2.05"/><circle cx="490.5" cy="381.9" r="2.05"/><circle cx="491.6" cy="388.7" r="2.05"/><circle cx="489.8" cy="333.5" r="2.05"/><circle cx="493.9" cy="359.9" r="2.05"/><circle cx="491.7" cy="353.3" r="2.05"/><circle cx="492.1" cy="351.0" r="2.05"/><circle cx="490.0" cy="343.0" r="2.05"/><circle cx="484.9" cy="347.4" r="2.05"/><circle cx="489.2" cy="388.3" r="2.05"/><circle cx="481.9" cy="335.9" r="2.05"/><circle cx="482.6" cy="349.6" r="2.05"/><circle cx="487.8" cy="361.5" r="2.05"/><circle cx="489.6" cy="322.3" r="2.05"/><circle cx="490.6" cy="332.2" r="2.05"/><circle cx="488.8" cy="379.9" r="2.05"/><circle cx="488.3" cy="378.4" r="2.05"/><circle cx="484.9" cy="359.8" r="2.05"/><circle cx="490.0" cy="339.9" r="2.05"/><circle cx="490.8" cy="325.0" r="2.05"/><circle cx="488.1" cy="371.3" r="2.05"/><circle cx="485.5" cy="339.4" r="2.05"/><circle cx="485.8" cy="335.6" r="2.05"/><circle cx="481.6" cy="343.9" r="2.05"/><circle cx="488.1" cy="343.7" r="2.05"/><circle cx="485.0" cy="343.8" r="2.05"/><circle cx="476.5" cy="342.7" r="2.05"/><circle cx="493.5" cy="339.6" r="2.05"/><circle cx="484.1" cy="366.2" r="2.05"/><circle cx="485.9" cy="359.2" r="2.05"/><circle cx="481.7" cy="353.5" r="2.05"/><circle cx="492.3" cy="325.2" r="2.05"/><circle cx="493.1" cy="371.5" r="2.05"/><circle cx="485.9" cy="372.2" r="2.05"/><circle cx="483.2" cy="345.6" r="2.05"/><circle cx="492.6" cy="356.9" r="2.05"/><circle cx="480.2" cy="342.8" r="2.05"/><circle cx="487.2" cy="326.0" r="2.05"/><circle cx="485.3" cy="358.5" r="2.05"/><circle cx="493.4" cy="377.8" r="2.05"/><circle cx="493.6" cy="378.4" r="2.05"/><circle cx="490.1" cy="387.0" r="2.05"/><circle cx="493.2" cy="323.6" r="2.05"/><circle cx="492.5" cy="314.5" r="2.05"/><circle cx="487.2" cy="380.8" r="2.05"/><circle cx="487.1" cy="366.2" r="2.05"/><circle cx="485.4" cy="331.6" r="2.05"/><circle cx="493.5" cy="367.0" r="2.05"/><circle cx="491.0" cy="339.4" r="2.05"/><circle cx="486.0" cy="385.1" r="2.05"/><circle cx="491.4" cy="339.7" r="2.05"/><circle cx="478.2" cy="337.2" r="2.05"/><circle cx="484.2" cy="324.5" r="2.05"/><circle cx="483.4" cy="348.0" r="2.05"/><circle cx="488.8" cy="366.1" r="2.05"/><circle cx="485.7" cy="342.4" r="2.05"/><circle cx="490.0" cy="322.0" r="2.05"/><circle cx="475.0" cy="342.5" r="2.05"/><circle cx="492.2" cy="335.5" r="2.05"/><circle cx="486.5" cy="334.3" r="2.05"/><circle cx="493.5" cy="330.5" r="2.05"/><circle cx="487.2" cy="347.2" r="2.05"/><circle cx="492.8" cy="388.5" r="2.05"/><circle cx="493.2" cy="349.0" r="2.05"/><circle cx="485.5" cy="372.6" r="2.05"/><circle cx="485.4" cy="343.5" r="2.05"/><circle cx="493.9" cy="340.6" r="2.05"/><circle cx="493.7" cy="331.3" r="2.05"/><circle cx="479.6" cy="334.0" r="2.05"/><circle cx="484.0" cy="366.5" r="2.05"/><circle cx="487.2" cy="384.1" r="2.05"/><circle cx="493.3" cy="346.2" r="2.05"/><circle cx="488.0" cy="350.2" r="2.05"/><circle cx="489.1" cy="335.3" r="2.05"/><circle cx="493.6" cy="337.4" r="2.05"/><circle cx="488.9" cy="342.7" r="2.05"/><circle cx="488.3" cy="351.6" r="2.05"/><circle cx="483.0" cy="350.5" r="2.05"/></g>
<g stroke="#1010f0" stroke-width="1.1" fill="#fff"><circle cx="321.0" cy="264.2" r="2.05"/><circle cx="322.6" cy="265.2" r="2.05"/><circle cx="324.1" cy="264.0" r="2.05"/><circle cx="325.6" cy="264.7" r="2.05"/><circle cx="327.1" cy="264.5" r="2.05"/><circle cx="328.6" cy="265.5" r="2.05"/><circle cx="330.0" cy="265.8" r="2.05"/><circle cx="331.3" cy="265.3" r="2.05"/><circle cx="332.7" cy="265.4" r="2.05"/><circle cx="334.0" cy="266.4" r="2.05"/><circle cx="335.3" cy="266.6" r="2.05"/><circle cx="336.5" cy="267.5" r="2.05"/><circle cx="337.8" cy="268.4" r="2.05"/><circle cx="339.0" cy="268.1" r="2.05"/><circle cx="340.1" cy="268.9" r="2.05"/><circle cx="341.3" cy="268.8" r="2.05"/><circle cx="342.4" cy="268.7" r="2.05"/><circle cx="343.6" cy="269.9" r="2.05"/><circle cx="344.7" cy="270.8" r="2.05"/><circle cx="345.7" cy="270.3" r="2.05"/><circle cx="346.8" cy="271.5" r="2.05"/><circle cx="347.8" cy="271.2" r="2.05"/><circle cx="348.9" cy="271.6" r="2.05"/><circle cx="349.9" cy="272.3" r="2.05"/><circle cx="350.9" cy="273.9" r="2.05"/><circle cx="351.8" cy="273.2" r="2.05"/><circle cx="352.8" cy="273.3" r="2.05"/><circle cx="353.7" cy="274.2" r="2.05"/><circle cx="354.7" cy="274.0" r="2.05"/><circle cx="355.6" cy="275.0" r="2.05"/><circle cx="356.5" cy="276.1" r="2.05"/><circle cx="357.4" cy="276.7" r="2.05"/><circle cx="358.2" cy="276.7" r="2.05"/><circle cx="359.1" cy="276.7" r="2.05"/><circle cx="360.0" cy="277.4" r="2.05"/><circle cx="360.8" cy="279.7" r="2.05"/><circle cx="361.6" cy="278.7" r="2.05"/><circle cx="362.4" cy="280.0" r="2.05"/><circle cx="363.3" cy="280.7" r="2.05"/><circle cx="364.1" cy="281.1" r="2.05"/><circle cx="364.8" cy="282.4" r="2.05"/><circle cx="365.6" cy="284.4" r="2.05"/><circle cx="366.4" cy="284.2" r="2.05"/><circle cx="367.1" cy="285.3" r="2.05"/><circle cx="367.9" cy="285.6" r="2.05"/><circle cx="368.6" cy="286.8" r="2.05"/><circle cx="369.3" cy="287.9" r="2.05"/><circle cx="370.1" cy="289.2" r="2.05"/><circle cx="370.8" cy="289.0" r="2.05"/><circle cx="371.5" cy="289.7" r="2.05"/><circle cx="372.2" cy="289.8" r="2.05"/><circle cx="372.9" cy="290.9" r="2.05"/><circle cx="373.5" cy="290.8" r="2.05"/><circle cx="374.2" cy="290.7" r="2.05"/><circle cx="374.9" cy="290.5" r="2.05"/><circle cx="375.5" cy="291.7" r="2.05"/><circle cx="376.2" cy="292.3" r="2.05"/><circle cx="376.8" cy="292.1" r="2.05"/><circle cx="377.5" cy="292.7" r="2.05"/><circle cx="378.1" cy="293.2" r="2.05"/><circle cx="378.7" cy="294.2" r="2.05"/><circle cx="379.3" cy="293.5" r="2.05"/><circle cx="380.0" cy="295.1" r="2.05"/><circle cx="380.6" cy="294.5" r="2.05"/><circle cx="381.2" cy="295.5" r="2.05"/><circle cx="381.8" cy="294.8" r="2.05"/><circle cx="382.3" cy="295.3" r="2.05"/><circle cx="382.9" cy="295.8" r="2.05"/><circle cx="383.5" cy="295.2" r="2.05"/><circle cx="384.1" cy="296.0" r="2.05"/><circle cx="384.6" cy="295.8" r="2.05"/><circle cx="385.2" cy="297.5" r="2.05"/><circle cx="385.8" cy="297.2" r="2.05"/><circle cx="386.3" cy="297.1" r="2.05"/><circle cx="386.9" cy="298.0" r="2.05"/><circle cx="387.4" cy="298.9" r="2.05"/><circle cx="387.9" cy="299.3" r="2.05"/><circle cx="388.5" cy="299.0" r="2.05"/><circle cx="389.0" cy="299.5" r="2.05"/><circle cx="389.5" cy="300.0" r="2.05"/><circle cx="390.0" cy="299.8" r="2.05"/><circle cx="390.5" cy="301.2" r="2.05"/><circle cx="391.0" cy="302.2" r="2.05"/><circle cx="391.6" cy="299.4" r="2.05"/><circle cx="392.1" cy="302.8" r="2.05"/><circle cx="392.6" cy="301.8" r="2.05"/><circle cx="393.0" cy="303.3" r="2.05"/><circle cx="393.5" cy="303.2" r="2.05"/><circle cx="394.0" cy="304.1" r="2.05"/><circle cx="394.5" cy="302.6" r="2.05"/><circle cx="395.0" cy="303.9" r="2.05"/><circle cx="395.5" cy="304.6" r="2.05"/><circle cx="395.9" cy="302.5" r="2.05"/><circle cx="396.4" cy="305.5" r="2.05"/><circle cx="396.8" cy="304.9" r="2.05"/><circle cx="397.3" cy="304.6" r="2.05"/><circle cx="397.8" cy="305.6" r="2.05"/><circle cx="398.2" cy="305.4" r="2.05"/><circle cx="398.7" cy="307.1" r="2.05"/><circle cx="399.1" cy="307.0" r="2.05"/><circle cx="399.6" cy="306.3" r="2.05"/><circle cx="400.0" cy="308.3" r="2.05"/><circle cx="400.4" cy="308.3" r="2.05"/><circle cx="400.9" cy="307.5" r="2.05"/><circle cx="401.3" cy="307.1" r="2.05"/><circle cx="401.7" cy="308.5" r="2.05"/><circle cx="402.1" cy="308.3" r="2.05"/><circle cx="402.6" cy="308.4" r="2.05"/><circle cx="403.0" cy="309.3" r="2.05"/><circle cx="403.4" cy="309.9" r="2.05"/><circle cx="403.8" cy="311.0" r="2.05"/><circle cx="404.2" cy="310.4" r="2.05"/><circle cx="404.6" cy="309.5" r="2.05"/><circle cx="405.0" cy="310.6" r="2.05"/><circle cx="405.4" cy="310.8" r="2.05"/><circle cx="405.8" cy="311.5" r="2.05"/><circle cx="406.2" cy="310.7" r="2.05"/><circle cx="406.6" cy="312.3" r="2.05"/><circle cx="407.0" cy="312.9" r="2.05"/><circle cx="407.4" cy="312.1" r="2.05"/><circle cx="407.8" cy="313.2" r="2.05"/><circle cx="408.2" cy="313.7" r="2.05"/><circle cx="408.6" cy="313.3" r="2.05"/><circle cx="408.9" cy="314.4" r="2.05"/><circle cx="409.3" cy="313.8" r="2.05"/><circle cx="409.7" cy="314.8" r="2.05"/><circle cx="410.1" cy="315.9" r="2.05"/><circle cx="410.4" cy="315.8" r="2.05"/><circle cx="410.8" cy="315.7" r="2.05"/><circle cx="411.2" cy="316.9" r="2.05"/><circle cx="411.5" cy="315.7" r="2.05"/><circle cx="411.9" cy="316.7" r="2.05"/><circle cx="412.2" cy="316.6" r="2.05"/><circle cx="412.6" cy="319.3" r="2.05"/><circle cx="413.0" cy="318.4" r="2.05"/><circle cx="413.3" cy="317.3" r="2.05"/><circle cx="413.7" cy="318.4" r="2.05"/><circle cx="414.0" cy="318.1" r="2.05"/><circle cx="414.4" cy="320.4" r="2.05"/><circle cx="414.7" cy="320.4" r="2.05"/><circle cx="415.0" cy="320.4" r="2.05"/><circle cx="415.4" cy="321.8" r="2.05"/><circle cx="415.7" cy="321.1" r="2.05"/><circle cx="416.1" cy="320.5" r="2.05"/><circle cx="416.4" cy="321.1" r="2.05"/><circle cx="416.7" cy="322.6" r="2.05"/><circle cx="417.1" cy="324.4" r="2.05"/><circle cx="417.4" cy="323.8" r="2.05"/><circle cx="417.7" cy="323.0" r="2.05"/><circle cx="418.1" cy="321.8" r="2.05"/><circle cx="418.4" cy="323.4" r="2.05"/><circle cx="418.7" cy="323.9" r="2.05"/><circle cx="419.0" cy="325.4" r="2.05"/><circle cx="419.3" cy="325.1" r="2.05"/><circle cx="419.7" cy="324.3" r="2.05"/><circle cx="420.0" cy="325.3" r="2.05"/><circle cx="420.3" cy="326.4" r="2.05"/><circle cx="420.6" cy="326.0" r="2.05"/><circle cx="420.9" cy="325.4" r="2.05"/><circle cx="421.2" cy="326.8" r="2.05"/><circle cx="421.5" cy="326.3" r="2.05"/><circle cx="421.8" cy="326.1" r="2.05"/><circle cx="422.1" cy="327.4" r="2.05"/><circle cx="422.4" cy="327.4" r="2.05"/><circle cx="422.7" cy="327.8" r="2.05"/><circle cx="423.1" cy="326.7" r="2.05"/><circle cx="423.3" cy="327.5" r="2.05"/><circle cx="423.6" cy="327.1" r="2.05"/><circle cx="423.9" cy="327.9" r="2.05"/><circle cx="424.2" cy="329.0" r="2.05"/><circle cx="424.5" cy="328.0" r="2.05"/><circle cx="424.8" cy="328.6" r="2.05"/><circle cx="425.1" cy="329.9" r="2.05"/><circle cx="425.4" cy="329.2" r="2.05"/><circle cx="425.7" cy="330.4" r="2.05"/><circle cx="426.0" cy="328.6" r="2.05"/><circle cx="426.3" cy="328.4" r="2.05"/><circle cx="426.5" cy="330.0" r="2.05"/><circle cx="426.8" cy="329.3" r="2.05"/><circle cx="427.1" cy="330.3" r="2.05"/><circle cx="427.4" cy="329.6" r="2.05"/><circle cx="427.7" cy="329.5" r="2.05"/><circle cx="427.9" cy="329.6" r="2.05"/><circle cx="428.2" cy="332.2" r="2.05"/><circle cx="428.5" cy="330.2" r="2.05"/><circle cx="428.8" cy="328.1" r="2.05"/><circle cx="429.0" cy="330.8" r="2.05"/><circle cx="429.3" cy="331.3" r="2.05"/><circle cx="429.6" cy="331.1" r="2.05"/><circle cx="429.9" cy="329.4" r="2.05"/><circle cx="430.1" cy="331.2" r="2.05"/><circle cx="430.4" cy="330.9" r="2.05"/><circle cx="430.7" cy="331.8" r="2.05"/><circle cx="430.9" cy="331.6" r="2.05"/><circle cx="431.2" cy="329.9" r="2.05"/><circle cx="431.4" cy="333.0" r="2.05"/><circle cx="431.7" cy="334.0" r="2.05"/><circle cx="432.0" cy="331.9" r="2.05"/><circle cx="432.2" cy="332.3" r="2.05"/><circle cx="432.5" cy="332.7" r="2.05"/><circle cx="432.7" cy="330.2" r="2.05"/><circle cx="433.0" cy="334.8" r="2.05"/><circle cx="433.2" cy="334.6" r="2.05"/><circle cx="433.5" cy="333.0" r="2.05"/><circle cx="433.8" cy="333.9" r="2.05"/><circle cx="434.0" cy="334.1" r="2.05"/><circle cx="434.3" cy="332.7" r="2.05"/><circle cx="434.5" cy="332.1" r="2.05"/><circle cx="434.8" cy="333.5" r="2.05"/><circle cx="435.0" cy="334.4" r="2.05"/><circle cx="435.2" cy="334.4" r="2.05"/><circle cx="435.5" cy="332.9" r="2.05"/><circle cx="435.7" cy="333.5" r="2.05"/><circle cx="436.0" cy="334.9" r="2.05"/><circle cx="436.2" cy="334.0" r="2.05"/><circle cx="436.5" cy="337.9" r="2.05"/><circle cx="436.7" cy="337.5" r="2.05"/><circle cx="436.9" cy="334.7" r="2.05"/><circle cx="437.2" cy="333.6" r="2.05"/><circle cx="437.4" cy="335.4" r="2.05"/><circle cx="437.7" cy="334.6" r="2.05"/><circle cx="437.9" cy="335.5" r="2.05"/><circle cx="438.1" cy="335.4" r="2.05"/><circle cx="438.4" cy="334.7" r="2.05"/><circle cx="438.6" cy="337.6" r="2.05"/><circle cx="438.8" cy="337.2" r="2.05"/><circle cx="439.1" cy="335.0" r="2.05"/><circle cx="439.3" cy="335.6" r="2.05"/><circle cx="439.5" cy="338.0" r="2.05"/><circle cx="439.7" cy="339.5" r="2.05"/><circle cx="440.0" cy="339.0" r="2.05"/><circle cx="440.2" cy="335.5" r="2.05"/><circle cx="440.4" cy="342.3" r="2.05"/><circle cx="440.6" cy="339.4" r="2.05"/><circle cx="440.9" cy="338.6" r="2.05"/><circle cx="441.1" cy="337.6" r="2.05"/><circle cx="441.3" cy="340.6" r="2.05"/><circle cx="441.5" cy="342.2" r="2.05"/><circle cx="441.8" cy="340.7" r="2.05"/><circle cx="442.0" cy="343.4" r="2.05"/><circle cx="442.2" cy="335.0" r="2.05"/><circle cx="442.4" cy="338.7" r="2.05"/><circle cx="442.6" cy="342.6" r="2.05"/><circle cx="442.9" cy="340.6" r="2.05"/><circle cx="443.1" cy="337.4" r="2.05"/><circle cx="443.3" cy="339.7" r="2.05"/><circle cx="443.5" cy="340.5" r="2.05"/><circle cx="443.7" cy="338.4" r="2.05"/><circle cx="443.9" cy="341.2" r="2.05"/><circle cx="444.1" cy="343.6" r="2.05"/><circle cx="444.4" cy="338.3" r="2.05"/><circle cx="444.6" cy="341.0" r="2.05"/><circle cx="444.8" cy="344.4" r="2.05"/><circle cx="445.0" cy="344.3" r="2.05"/><circle cx="445.2" cy="341.5" r="2.05"/><circle cx="445.4" cy="341.4" r="2.05"/><circle cx="445.6" cy="339.7" r="2.05"/><circle cx="445.8" cy="341.5" r="2.05"/><circle cx="446.0" cy="347.2" r="2.05"/><circle cx="446.2" cy="345.3" r="2.05"/><circle cx="446.4" cy="345.0" r="2.05"/><circle cx="446.6" cy="341.4" r="2.05"/><circle cx="446.8" cy="342.5" r="2.05"/><circle cx="447.0" cy="347.0" r="2.05"/><circle cx="447.2" cy="342.1" r="2.05"/><circle cx="447.4" cy="341.7" r="2.05"/><circle cx="447.6" cy="341.4" r="2.05"/><circle cx="447.8" cy="344.9" r="2.05"/><circle cx="448.0" cy="342.7" r="2.05"/><circle cx="448.2" cy="346.7" r="2.05"/><circle cx="448.4" cy="343.7" r="2.05"/><circle cx="448.6" cy="343.3" r="2.05"/><circle cx="448.8" cy="348.1" r="2.05"/><circle cx="449.0" cy="348.7" r="2.05"/><circle cx="449.2" cy="345.8" r="2.05"/><circle cx="449.4" cy="342.8" r="2.05"/><circle cx="449.6" cy="346.7" r="2.05"/><circle cx="449.8" cy="343.2" r="2.05"/><circle cx="450.0" cy="345.8" r="2.05"/><circle cx="450.2" cy="349.8" r="2.05"/><circle cx="450.4" cy="338.3" r="2.05"/><circle cx="450.6" cy="351.3" r="2.05"/><circle cx="450.8" cy="346.9" r="2.05"/><circle cx="451.0" cy="345.5" r="2.05"/><circle cx="451.2" cy="347.7" r="2.05"/><circle cx="451.3" cy="344.1" r="2.05"/><circle cx="451.5" cy="346.0" r="2.05"/><circle cx="451.7" cy="348.5" r="2.05"/><circle cx="451.9" cy="347.6" r="2.05"/><circle cx="452.1" cy="341.0" r="2.05"/><circle cx="452.3" cy="350.3" r="2.05"/><circle cx="452.5" cy="339.4" r="2.05"/><circle cx="452.7" cy="347.8" r="2.05"/><circle cx="452.8" cy="349.7" r="2.05"/><circle cx="453.0" cy="350.7" r="2.05"/><circle cx="453.2" cy="343.8" r="2.05"/><circle cx="453.4" cy="343.7" r="2.05"/><circle cx="453.6" cy="346.8" r="2.05"/><circle cx="453.7" cy="344.4" r="2.05"/><circle cx="453.9" cy="345.2" r="2.05"/><circle cx="454.1" cy="346.5" r="2.05"/><circle cx="454.3" cy="355.0" r="2.05"/><circle cx="454.5" cy="352.5" r="2.05"/><circle cx="454.7" cy="342.9" r="2.05"/><circle cx="454.8" cy="348.7" r="2.05"/><circle cx="455.0" cy="345.8" r="2.05"/><circle cx="455.2" cy="351.0" r="2.05"/><circle cx="455.4" cy="346.9" r="2.05"/><circle cx="455.6" cy="345.5" r="2.05"/><circle cx="455.7" cy="339.1" r="2.05"/><circle cx="455.9" cy="350.1" r="2.05"/><circle cx="456.1" cy="353.5" r="2.05"/><circle cx="456.3" cy="359.8" r="2.05"/><circle cx="456.5" cy="352.2" r="2.05"/><circle cx="456.6" cy="356.0" r="2.05"/><circle cx="456.8" cy="344.3" r="2.05"/><circle cx="457.0" cy="339.7" r="2.05"/><circle cx="457.2" cy="348.6" r="2.05"/><circle cx="457.4" cy="349.5" r="2.05"/><circle cx="457.5" cy="347.5" r="2.05"/><circle cx="457.7" cy="348.5" r="2.05"/><circle cx="457.9" cy="345.1" r="2.05"/><circle cx="458.1" cy="344.5" r="2.05"/><circle cx="458.3" cy="352.1" r="2.05"/><circle cx="458.4" cy="348.8" r="2.05"/><circle cx="458.6" cy="355.2" r="2.05"/><circle cx="458.8" cy="351.2" r="2.05"/><circle cx="459.0" cy="344.0" r="2.05"/><circle cx="459.2" cy="358.7" r="2.05"/><circle cx="459.3" cy="359.7" r="2.05"/><circle cx="459.5" cy="350.2" r="2.05"/><circle cx="459.7" cy="347.3" r="2.05"/><circle cx="459.9" cy="354.3" r="2.05"/><circle cx="460.1" cy="361.2" r="2.05"/><circle cx="460.2" cy="350.4" r="2.05"/><circle cx="460.4" cy="347.4" r="2.05"/><circle cx="460.6" cy="350.8" r="2.05"/><circle cx="460.8" cy="354.5" r="2.05"/><circle cx="461.0" cy="342.7" r="2.05"/><circle cx="461.1" cy="355.4" r="2.05"/><circle cx="461.3" cy="349.1" r="2.05"/><circle cx="461.5" cy="358.9" r="2.05"/><circle cx="461.7" cy="357.1" r="2.05"/><circle cx="461.9" cy="350.9" r="2.05"/><circle cx="462.0" cy="352.7" r="2.05"/><circle cx="462.2" cy="353.8" r="2.05"/><circle cx="462.4" cy="358.8" r="2.05"/><circle cx="462.6" cy="367.9" r="2.05"/><circle cx="462.8" cy="351.8" r="2.05"/><circle cx="462.9" cy="349.6" r="2.05"/><circle cx="463.1" cy="354.5" r="2.05"/><circle cx="463.3" cy="351.6" r="2.05"/><circle cx="463.5" cy="353.2" r="2.05"/><circle cx="463.7" cy="358.4" r="2.05"/><circle cx="463.8" cy="363.2" r="2.05"/><circle cx="464.0" cy="354.7" r="2.05"/><circle cx="464.2" cy="349.2" r="2.05"/><circle cx="464.4" cy="363.6" r="2.05"/><circle cx="464.6" cy="346.9" r="2.05"/><circle cx="464.7" cy="360.8" r="2.05"/><circle cx="464.9" cy="362.0" r="2.05"/><circle cx="465.1" cy="347.9" r="2.05"/><circle cx="465.3" cy="349.7" r="2.05"/><circle cx="465.5" cy="355.9" r="2.05"/><circle cx="465.6" cy="355.1" r="2.05"/><circle cx="465.8" cy="360.9" r="2.05"/><circle cx="466.0" cy="348.4" r="2.05"/><circle cx="466.2" cy="357.7" r="2.05"/><circle cx="466.4" cy="357.5" r="2.05"/><circle cx="466.5" cy="360.2" r="2.05"/><circle cx="466.7" cy="348.6" r="2.05"/><circle cx="466.9" cy="354.7" r="2.05"/><circle cx="467.1" cy="362.7" r="2.05"/><circle cx="467.3" cy="344.8" r="2.05"/><circle cx="467.4" cy="361.5" r="2.05"/><circle cx="467.6" cy="335.0" r="2.05"/><circle cx="467.8" cy="358.7" r="2.05"/><circle cx="468.0" cy="358.9" r="2.05"/><circle cx="468.2" cy="358.9" r="2.05"/><circle cx="468.3" cy="354.0" r="2.05"/><circle cx="468.5" cy="360.1" r="2.05"/><circle cx="468.7" cy="364.9" r="2.05"/><circle cx="468.9" cy="363.4" r="2.05"/><circle cx="469.1" cy="358.7" r="2.05"/><circle cx="469.2" cy="350.8" r="2.05"/><circle cx="469.4" cy="347.2" r="2.05"/><circle cx="469.6" cy="361.0" r="2.05"/><circle cx="469.8" cy="368.8" r="2.05"/><circle cx="470.0" cy="360.9" r="2.05"/><circle cx="470.1" cy="362.4" r="2.05"/><circle cx="470.3" cy="366.9" r="2.05"/><circle cx="470.5" cy="369.2" r="2.05"/><circle cx="470.7" cy="365.2" r="2.05"/><circle cx="470.9" cy="347.4" r="2.05"/><circle cx="471.0" cy="354.5" r="2.05"/><circle cx="471.2" cy="363.3" r="2.05"/><circle cx="471.4" cy="346.3" r="2.05"/><circle cx="471.6" cy="348.7" r="2.05"/><circle cx="471.8" cy="349.4" r="2.05"/><circle cx="471.9" cy="365.7" r="2.05"/><circle cx="472.1" cy="367.3" r="2.05"/><circle cx="472.3" cy="352.9" r="2.05"/><circle cx="472.5" cy="360.2" r="2.05"/><circle cx="472.7" cy="343.9" r="2.05"/><circle cx="472.8" cy="358.2" r="2.05"/><circle cx="473.0" cy="358.7" r="2.05"/><circle cx="473.2" cy="359.1" r="2.05"/><circle cx="473.4" cy="352.2" r="2.05"/><circle cx="473.6" cy="367.3" r="2.05"/><circle cx="473.7" cy="343.7" r="2.05"/><circle cx="473.9" cy="356.6" r="2.05"/><circle cx="474.1" cy="366.4" r="2.05"/><circle cx="474.3" cy="359.2" r="2.05"/><circle cx="474.5" cy="356.8" r="2.05"/><circle cx="474.6" cy="374.0" r="2.05"/><circle cx="474.8" cy="359.8" r="2.05"/><circle cx="475.0" cy="363.8" r="2.05"/><circle cx="475.2" cy="360.0" r="2.05"/><circle cx="475.4" cy="364.2" r="2.05"/><circle cx="475.5" cy="358.2" r="2.05"/><circle cx="475.7" cy="363.7" r="2.05"/><circle cx="475.9" cy="377.0" r="2.05"/><circle cx="476.1" cy="379.4" r="2.05"/><circle cx="476.3" cy="353.3" r="2.05"/><circle cx="476.4" cy="364.2" r="2.05"/><circle cx="476.6" cy="357.4" r="2.05"/><circle cx="476.8" cy="372.1" r="2.05"/><circle cx="477.0" cy="364.3" r="2.05"/><circle cx="477.2" cy="360.0" r="2.05"/><circle cx="477.3" cy="361.4" r="2.05"/><circle cx="477.5" cy="357.5" r="2.05"/><circle cx="477.7" cy="359.5" r="2.05"/><circle cx="477.9" cy="366.5" r="2.05"/><circle cx="478.1" cy="364.6" r="2.05"/><circle cx="478.2" cy="360.9" r="2.05"/><circle cx="478.4" cy="357.5" r="2.05"/><circle cx="478.6" cy="345.0" r="2.05"/><circle cx="478.8" cy="347.6" r="2.05"/><circle cx="479.0" cy="371.1" r="2.05"/><circle cx="479.1" cy="377.1" r="2.05"/><circle cx="479.3" cy="360.7" r="2.05"/><circle cx="479.5" cy="363.8" r="2.05"/><circle cx="479.7" cy="360.1" r="2.05"/><circle cx="479.9" cy="374.8" r="2.05"/><circle cx="480.0" cy="364.5" r="2.05"/><circle cx="480.2" cy="357.1" r="2.05"/><circle cx="480.4" cy="353.8" r="2.05"/><circle cx="480.6" cy="345.2" r="2.05"/><circle cx="480.8" cy="360.2" r="2.05"/><circle cx="480.9" cy="359.1" r="2.05"/><circle cx="481.1" cy="368.4" r="2.05"/><circle cx="481.3" cy="382.8" r="2.05"/><circle cx="481.5" cy="352.5" r="2.05"/><circle cx="481.7" cy="358.2" r="2.05"/><circle cx="481.8" cy="361.1" r="2.05"/><circle cx="482.0" cy="363.8" r="2.05"/><circle cx="482.2" cy="382.0" r="2.05"/><circle cx="482.4" cy="367.2" r="2.05"/><circle cx="482.6" cy="373.6" r="2.05"/><circle cx="482.7" cy="357.6" r="2.05"/><circle cx="482.9" cy="371.1" r="2.05"/><circle cx="483.1" cy="378.6" r="2.05"/><circle cx="483.3" cy="357.7" r="2.05"/><circle cx="483.5" cy="371.3" r="2.05"/><circle cx="483.6" cy="357.4" r="2.05"/><circle cx="483.8" cy="374.3" r="2.05"/><circle cx="484.0" cy="357.9" r="2.05"/><circle cx="484.2" cy="351.6" r="2.05"/><circle cx="484.4" cy="385.7" r="2.05"/><circle cx="484.5" cy="361.2" r="2.05"/><circle cx="484.7" cy="385.1" r="2.05"/><circle cx="484.9" cy="361.3" r="2.05"/><circle cx="485.1" cy="354.4" r="2.05"/><circle cx="485.3" cy="360.7" r="2.05"/><circle cx="485.4" cy="368.9" r="2.05"/><circle cx="485.6" cy="358.9" r="2.05"/><circle cx="485.8" cy="387.3" r="2.05"/><circle cx="486.0" cy="379.3" r="2.05"/></g>
</g>
<path d="M86.6,12.3H509.0V391.0H86.6Z" fill="none" stroke="#000" stroke-width="1.8"/>
<path d="M86.6,391.00h7 M86.6,374.71h3.8 M86.6,358.43h3.8 M86.6,348.90h3.8 M86.6,342.14h3.8 M86.6,336.90h7 M86.6,320.61h3.8 M86.6,304.33h3.8 M86.6,294.80h3.8 M86.6,288.04h3.8 M86.6,282.80h7 M86.6,266.51h3.8 M86.6,250.23h3.8 M86.6,240.70h3.8 M86.6,233.94h3.8 M86.6,228.70h7 M86.6,212.41h3.8 M86.6,196.13h3.8 M86.6,186.60h3.8 M86.6,179.84h3.8 M86.6,174.60h7 M86.6,158.31h3.8 M86.6,142.03h3.8 M86.6,132.50h3.8 M86.6,125.74h3.8 M86.6,120.50h7 M86.6,104.21h3.8 M86.6,87.93h3.8 M86.6,78.40h3.8 M86.6,71.64h3.8 M86.6,66.40h7 M86.6,50.11h3.8 M86.6,33.83h3.8 M86.6,24.30h3.8 M86.6,17.54h3.8 M86.60,391.0v-7.5 M128.99,391.0v-4 M153.78,391.0v-4 M171.37,391.0v-4 M185.01,391.0v-4 M196.16,391.0v-4 M205.59,391.0v-4 M213.76,391.0v-4 M220.96,391.0v-4 M227.40,391.0v-7.5 M269.79,391.0v-4 M294.58,391.0v-4 M312.17,391.0v-4 M325.81,391.0v-4 M336.96,391.0v-4 M346.39,391.0v-4 M354.56,391.0v-4 M361.76,391.0v-4 M368.20,391.0v-7.5 M410.59,391.0v-4 M435.38,391.0v-4 M452.97,391.0v-4 M466.61,391.0v-4 M477.76,391.0v-4 M487.19,391.0v-4 M495.36,391.0v-4 M502.56,391.0v-4 M509.00,391.0v-7.5" fill="none" stroke="#000" stroke-width="1.6"/>
<text x="48.6" y="399.5" font-size="21.5" letter-spacing="-1">10</text>
<text x="80.3" y="387.5" font-size="11.6" text-anchor="end">-5</text>
<text x="48.6" y="345.4" font-size="21.5" letter-spacing="-1">10</text>
<text x="80.3" y="333.4" font-size="11.6" text-anchor="end">-4</text>
<text x="48.6" y="291.3" font-size="21.5" letter-spacing="-1">10</text>
<text x="80.3" y="279.3" font-size="11.6" text-anchor="end">-3</text>
<text x="48.6" y="237.2" font-size="21.5" letter-spacing="-1">10</text>
<text x="80.3" y="225.2" font-size="11.6" text-anchor="end">-2</text>
<text x="48.6" y="183.1" font-size="21.5" letter-spacing="-1">10</text>
<text x="80.3" y="171.1" font-size="11.6" text-anchor="end">-1</text>
<text x="52.2" y="129.0" font-size="21.5" letter-spacing="-1">10</text>
<text x="80.3" y="117.0" font-size="11.6" text-anchor="end">0</text>
<text x="52.2" y="74.9" font-size="21.5" letter-spacing="-1">10</text>
<text x="80.3" y="62.9" font-size="11.6" text-anchor="end">1</text>
<text x="52.2" y="20.8" font-size="21.5" letter-spacing="-1">10</text>
<text x="80.3" y="8.8" font-size="11.6" text-anchor="end">2</text>
<text x="68.3" y="415.7" font-size="21.5" letter-spacing="-1.5">0.01</text>
<text x="213.7" y="415.7" font-size="21.5" letter-spacing="-1.5">0.1</text>
<text x="362.3" y="415.7" font-size="21.5" letter-spacing="-1.5">1</text>
<text x="497.6" y="415.7" font-size="21.5" letter-spacing="-1.5">10</text>
<text x="256.5" y="447.7" font-size="27.5">q(nm<tspan font-size="13.5" dy="-16" dx="-1.5">-1</tspan><tspan dy="16">)</tspan></text>
<text transform="translate(26.7,285.5) rotate(-90)" font-size="29.5">I(q) (mm<tspan font-size="17" dy="-13">-1</tspan><tspan dy="13">)</tspan></text>
<rect x="344.6" y="13.200000000000001" width="163.49999999999997" height="154.29999999999998" fill="#fff"/>
<path d="M344.6,12.3V167.5H509.0" fill="none" stroke="#000" stroke-width="1.1"/>
<path d="M363.35,167.5v-2.5 M388.88,167.5v-2.5 M407.00,167.5v-2.5 M421.05,167.5v-2.5 M432.53,167.5v-2.5 M442.24,167.5v-2.5 M450.65,167.5v-2.5 M458.07,167.5v-2.5 M464.70,167.5v-4 M344.6,51.3h3.5 M344.6,129h3.5" fill="none" stroke="#000" stroke-width="1"/>
<text x="455.3" y="183.5" font-size="11.8" letter-spacing="0.3">0.1</text>
<text x="365.5" y="204.3" font-size="25" letter-spacing="-0.7">q(nm<tspan font-size="15" dy="-11" dx="-1">-</tspan><tspan font-size="20" dy="-2.3" dx="3">1</tspan><tspan dy="13.3" dx="3">)</tspan></text>
<text transform="translate(330.3,143.6) rotate(-90)" font-size="26">I(q)/I*(q)</text>
<path d="M360.3,82.8 L361.2,84.4 L362.1,87.2 L363.0,88.6 L363.9,90.7 L364.8,90.4 L365.7,90.5 L366.6,89.0 L367.5,88.8 L368.4,87.6 L369.3,86.7 L370.2,87.3 L371.1,87.5 L372.0,86.7 L372.9,86.3 L373.8,86.3 L374.7,86.4 L375.6,86.1 L376.5,85.5 L377.4,85.3 L378.3,85.3 L379.2,85.3 L380.1,85.1 L381.0,85.7 L381.9,85.3 L382.8,85.0 L383.7,85.8 L384.6,85.3 L385.5,84.0 L386.4,84.7 L387.3,84.3 L388.2,84.8 L389.1,85.0 L390.0,85.1 L390.9,84.4 L391.8,85.0 L392.7,85.1 L393.6,84.2 L394.5,84.9 L395.4,84.2 L396.3,84.4 L397.2,83.7 L398.1,82.5 L399.0,82.1 L399.9,81.7 L400.8,80.9 L401.7,79.9 L402.6,79.3 L403.5,78.7 L404.4,77.5 L405.3,77.0 L406.2,76.0 L407.1,75.3 L408.0,74.0 L408.9,73.2 L409.8,72.7 L410.7,71.6 L411.6,70.0 L412.5,69.0 L413.4,67.7 L414.3,66.9 L415.2,66.3 L416.1,64.6 L417.0,63.3 L417.9,62.8 L418.8,61.4 L419.7,60.4 L420.6,59.0 L421.5,57.7 L422.4,56.9 L423.3,56.6 L424.2,55.1 L425.1,54.1 L426.0,53.8 L426.9,52.5 L427.8,51.7 L428.7,50.4 L429.6,49.8 L430.5,48.8 L431.4,48.5 L432.3,47.2 L433.2,46.8 L434.1,45.5 L435.0,44.8 L435.9,44.0 L436.8,43.4 L437.7,42.8 L438.6,41.8 L439.5,41.8 L440.4,41.8 L441.3,42.5 L442.2,42.8 L443.1,43.1 L444.0,43.4 L444.9,44.4 L445.8,46.2 L446.7,47.3 L447.6,48.7 L448.5,49.8 L449.4,51.4 L450.3,53.2 L451.2,55.1 L452.1,57.3 L453.0,58.7 L453.9,60.0 L454.8,62.4 L455.7,65.4 L456.6,67.6 L457.5,69.2 L458.4,72.4 L459.3,75.7 L460.2,78.5 L461.1,82.0 L462.0,82.9 L462.9,85.9 L463.8,90.8 L464.7,92.6 L465.6,96.4 L466.5,96.9 L467.4,101.2 L468.3,102.9 L469.2,104.7 L470.1,108.7 L471.0,113.6 L471.9,113.5 L472.8,118.9 L473.7,118.8 L474.6,123.3 L475.5,122.1 L476.4,124.0 L477.3,126.2 L478.2,129.4 L479.1,128.6 L480.0,131.2 L480.9,128.3 L481.8,131.1 L482.7,130.1 L483.6,131.0 L484.5,131.7 L485.4,130.1 L486.3,129.0 L487.2,130.4 L488.1,128.1 L489.0,129.9 L489.9,130.2 L490.8,128.7 L491.7,129.4 L492.6,130.5 L493.5,126.5 L494.4,127.7 L495.3,126.7 L496.2,125.6 L497.1,124.7 L498.0,124.1 L498.9,126.2 L499.8,125.2 L500.7,123.8 L501.6,121.7 L502.5,121.3 L503.4,123.7 L504.3,121.2 L505.2,121.1 L506.1,119.6 L507.0,120.4 L507.9,120.4" fill="none" stroke="#ff0000" stroke-width="1.1" stroke-linejoin="round"/>
<path d="M360.3,74.8 L361.2,77.4 L362.1,80.3 L363.0,82.4 L363.9,84.6 L364.8,86.0 L365.7,86.5 L366.6,86.2 L367.5,86.5 L368.4,86.1 L369.3,84.8 L370.2,85.4 L371.1,85.8 L372.0,85.4 L372.9,86.0 L373.8,85.4 L374.7,85.3 L375.6,85.4 L376.5,84.2 L377.4,84.4 L378.3,84.6 L379.2,84.5 L380.1,83.9 L381.0,84.0 L381.9,83.3 L382.8,83.1 L383.7,82.4 L384.6,82.0 L385.5,80.5 L386.4,80.4 L387.3,79.4 L388.2,78.9 L389.1,77.6 L390.0,76.9 L390.9,76.0 L391.8,75.1 L392.7,73.7 L393.6,72.4 L394.5,72.5 L395.4,70.6 L396.3,69.4 L397.2,68.4 L398.1,66.7 L399.0,65.8 L399.9,64.7 L400.8,62.9 L401.7,61.6 L402.6,60.6 L403.5,59.8 L404.4,58.4 L405.3,56.6 L406.2,55.9 L407.1,54.5 L408.0,53.5 L408.9,52.1 L409.8,50.8 L410.7,49.7 L411.6,48.4 L412.5,47.8 L413.4,46.7 L414.3,45.6 L415.2,45.1 L416.1,44.8 L417.0,43.0 L417.9,42.4 L418.8,41.3 L419.7,40.7 L420.6,39.4 L421.5,38.5 L422.4,38.1 L423.3,37.2 L424.2,35.9 L425.1,35.5 L426.0,34.8 L426.9,34.3 L427.8,33.7 L428.7,33.5 L429.6,32.3 L430.5,33.2 L431.4,33.7 L432.3,34.6 L433.2,34.7 L434.1,35.4 L435.0,35.8 L435.9,37.2 L436.8,38.1 L437.7,39.3 L438.6,41.5 L439.5,44.4 L440.4,48.5 L441.3,51.3 L442.2,54.5 L443.1,58.3 L444.0,62.1 L444.9,65.9 L445.8,69.8 L446.7,72.9 L447.6,76.5 L448.5,80.0 L449.4,83.4 L450.3,87.0 L451.2,89.3 L452.1,93.3 L453.0,96.2 L453.9,99.8 L454.8,102.5 L455.7,105.6 L456.6,107.6 L457.5,110.4 L458.4,114.1 L459.3,116.5 L460.2,118.4 L461.1,120.3 L462.0,124.0 L462.9,126.1 L463.8,129.7 L464.7,132.7 L465.6,133.5 L466.5,133.9 L467.4,133.9 L468.3,135.8 L469.2,135.8 L470.1,137.5 L471.0,138.6 L471.9,137.3 L472.8,135.5 L473.7,136.6 L474.6,137.2 L475.5,137.3 L476.4,137.6 L477.3,136.4 L478.2,138.0 L479.1,137.4 L480.0,138.9 L480.9,136.1 L481.8,137.7 L482.7,138.4 L483.6,136.8 L484.5,136.3 L485.4,135.3 L486.3,137.1 L487.2,135.2 L488.1,135.3 L489.0,136.8 L489.9,137.6 L490.8,135.0 L491.7,134.9 L492.6,134.9 L493.5,135.0 L494.4,133.8 L495.3,135.1 L496.2,133.3 L497.1,134.6 L498.0,132.3 L498.9,132.1 L499.8,132.2 L500.7,130.9 L501.6,132.7 L502.5,131.7 L503.4,132.5 L504.3,129.4 L505.2,130.6 L506.1,127.1 L507.0,129.9 L507.9,128.6" fill="none" stroke="#008000" stroke-width="1.1" stroke-linejoin="round"/>
<path d="M360.3,66.4 L361.2,69.3 L362.1,72.6 L363.0,76.8 L363.9,79.1 L364.8,81.1 L365.7,81.7 L366.6,81.7 L367.5,81.7 L368.4,81.9 L369.3,82.2 L370.2,82.3 L371.1,82.3 L372.0,81.5 L372.9,80.7 L373.8,81.4 L374.7,81.1 L375.6,80.6 L376.5,80.0 L377.4,80.2 L378.3,79.8 L379.2,79.4 L380.1,79.2 L381.0,78.5 L381.9,77.0 L382.8,77.4 L383.7,75.8 L384.6,75.3 L385.5,74.1 L386.4,73.3 L387.3,72.5 L388.2,70.8 L389.1,69.3 L390.0,67.8 L390.9,67.0 L391.8,65.4 L392.7,63.6 L393.6,61.5 L394.5,61.5 L395.4,58.8 L396.3,57.5 L397.2,56.3 L398.1,54.7 L399.0,53.1 L399.9,52.0 L400.8,50.0 L401.7,48.5 L402.6,47.1 L403.5,46.3 L404.4,45.2 L405.3,44.0 L406.2,42.9 L407.1,41.9 L408.0,40.8 L408.9,40.2 L409.8,39.0 L410.7,38.7 L411.6,37.9 L412.5,37.3 L413.4,36.8 L414.3,36.0 L415.2,35.2 L416.1,35.3 L417.0,34.9 L417.9,34.5 L418.8,34.0 L419.7,34.2 L420.6,33.8 L421.5,33.5 L422.4,33.5 L423.3,33.4 L424.2,34.6 L425.1,34.9 L426.0,35.4 L426.9,36.5 L427.8,37.9 L428.7,39.2 L429.6,40.3 L430.5,41.7 L431.4,44.9 L432.3,48.8 L433.2,52.1 L434.1,55.2 L435.0,59.0 L435.9,61.9 L436.8,65.1 L437.7,69.0 L438.6,72.2 L439.5,75.9 L440.4,79.3 L441.3,82.7 L442.2,85.8 L443.1,88.7 L444.0,91.6 L444.9,94.5 L445.8,97.0 L446.7,99.2 L447.6,102.4 L448.5,104.8 L449.4,107.4 L450.3,110.4 L451.2,112.9 L452.1,116.1 L453.0,118.4 L453.9,120.5 L454.8,124.2 L455.7,126.9 L456.6,130.0 L457.5,132.7 L458.4,136.8 L459.3,139.8 L460.2,140.3 L461.1,141.6 L462.0,140.8 L462.9,141.2 L463.8,142.9 L464.7,142.9 L465.6,143.4 L466.5,142.4 L467.4,143.5 L468.3,143.8 L469.2,142.8 L470.1,144.7 L471.0,143.0 L471.9,145.5 L472.8,145.1 L473.7,144.5 L474.6,144.2 L475.5,144.4 L476.4,145.5 L477.3,145.6 L478.2,145.5 L479.1,145.1 L480.0,145.2 L480.9,145.0 L481.8,146.0 L482.7,146.1 L483.6,146.3 L484.5,145.9 L485.4,146.7 L486.3,147.7 L487.2,144.8 L488.1,147.1 L489.0,143.9 L489.9,146.6 L490.8,145.1 L491.7,145.6 L492.6,143.7 L493.5,144.5 L494.4,144.4 L495.3,143.3 L496.2,144.9 L497.1,142.8 L498.0,144.3 L498.9,144.0 L499.8,142.7 L500.7,140.6 L501.6,142.6 L502.5,142.6 L503.4,141.6 L504.3,138.7 L505.2,139.7 L506.1,138.7 L507.0,138.2 L507.9,138.7" fill="none" stroke="#000" stroke-width="1.1" stroke-linejoin="round"/>
</svg></body></html>
